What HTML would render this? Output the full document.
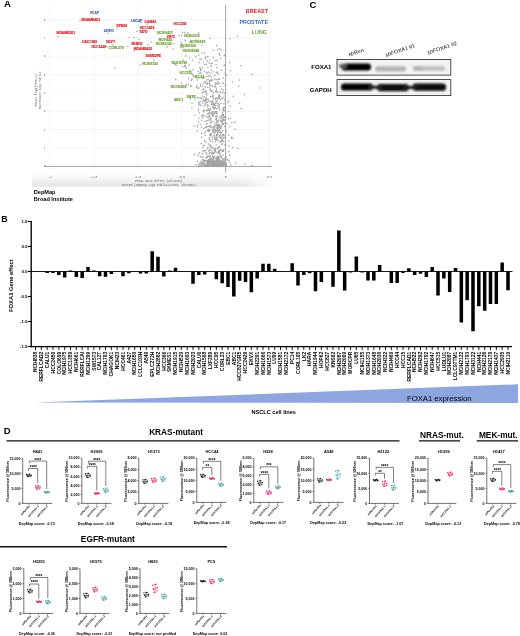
<!DOCTYPE html><html><head><meta charset="utf-8"><title>Figure</title><style>html,body{margin:0;padding:0;background:#fff}svg{display:block}text{font-family:"Liberation Sans",sans-serif}.b{font-weight:bold}</style></head><body>
<svg width="520" height="636" viewBox="0 0 520 636">
<defs><linearGradient id="gb" x1="0" y1="0" x2="0" y2="1"><stop offset="0" stop-color="#fff"/><stop offset="0.5" stop-color="#f3f3f3"/><stop offset="1" stop-color="#e3e3e3"/></linearGradient><linearGradient id="gbx" x1="0" y1="0" x2="1" y2="0"><stop offset="0" stop-color="#fff" stop-opacity="0"/><stop offset="0.86" stop-color="#fff" stop-opacity="0"/><stop offset="1" stop-color="#fff" stop-opacity="1"/></linearGradient><filter id="bl" x="-20%" y="-50%" width="140%" height="200%"><feGaussianBlur stdDeviation="1.2 0.9"/></filter><filter id="bl2" x="-20%" y="-50%" width="140%" height="200%"><feGaussianBlur stdDeviation="1.6 1.0"/></filter></defs>
<rect width="520" height="636" fill="#fff"/>
<text x="4.0" y="7.4" font-size="9.6" class="b">A</text>
<text x="1.2" y="221.8" font-size="8.8" class="b">B</text>
<text x="309.6" y="8.3" font-size="9.6" class="b">C</text>
<text x="3.7" y="434.3" font-size="9.5" class="b">D</text>
<g id="panelA">
<rect x="32" y="173" width="240" height="13.7" fill="url(#gb)"/><rect x="32" y="172.5" width="241" height="15" fill="url(#gbx)"/>
<line x1="50.0" y1="5" x2="50.0" y2="172" stroke="#ececec" stroke-width="0.5"/>
<line x1="93.9" y1="5" x2="93.9" y2="172" stroke="#ececec" stroke-width="0.5"/>
<line x1="137.8" y1="5" x2="137.8" y2="172" stroke="#ececec" stroke-width="0.5"/>
<line x1="181.7" y1="5" x2="181.7" y2="172" stroke="#ececec" stroke-width="0.5"/>
<line x1="269.5" y1="5" x2="269.5" y2="172" stroke="#ececec" stroke-width="0.5"/>
<line x1="46.5" y1="148.0" x2="271" y2="148.0" stroke="#ececec" stroke-width="0.5"/>
<line x1="46.5" y1="129.7" x2="271" y2="129.7" stroke="#ececec" stroke-width="0.5"/>
<line x1="46.5" y1="111.3" x2="271" y2="111.3" stroke="#ececec" stroke-width="0.5"/>
<line x1="46.5" y1="93.0" x2="271" y2="93.0" stroke="#ececec" stroke-width="0.5"/>
<line x1="46.5" y1="74.6" x2="271" y2="74.6" stroke="#ececec" stroke-width="0.5"/>
<line x1="46.5" y1="56.2" x2="271" y2="56.2" stroke="#ececec" stroke-width="0.5"/>
<line x1="46.5" y1="37.9" x2="271" y2="37.9" stroke="#ececec" stroke-width="0.5"/>
<line x1="46.5" y1="19.5" x2="271" y2="19.5" stroke="#ececec" stroke-width="0.5"/>
<line x1="44.8" y1="166.4" x2="271.5" y2="166.4" stroke="#9a9a9a" stroke-width="0.9"/>
<line x1="225.6" y1="5" x2="225.6" y2="172.5" stroke="#9a9a9a" stroke-width="0.9"/>
<text x="50.0" y="178.4" font-size="2.8" text-anchor="middle" fill="#666" style="font-family:'Liberation Mono',monospace">-2</text>
<text x="93.9" y="178.4" font-size="2.8" text-anchor="middle" fill="#666" style="font-family:'Liberation Mono',monospace">-1.5</text>
<text x="137.8" y="178.4" font-size="2.8" text-anchor="middle" fill="#666" style="font-family:'Liberation Mono',monospace">-1.0</text>
<text x="181.7" y="178.4" font-size="2.8" text-anchor="middle" fill="#666" style="font-family:'Liberation Mono',monospace">-0.5</text>
<text x="225.6" y="178.4" font-size="2.8" text-anchor="middle" fill="#666" style="font-family:'Liberation Mono',monospace">0</text>
<text x="269.5" y="178.4" font-size="2.8" text-anchor="middle" fill="#666" style="font-family:'Liberation Mono',monospace">0.5</text>
<text x="45.4" y="167.3" font-size="2.8" text-anchor="end" fill="#666" style="font-family:'Liberation Mono',monospace">0</text>
<text x="45.4" y="149.0" font-size="2.8" text-anchor="end" fill="#666" style="font-family:'Liberation Mono',monospace">1</text>
<text x="45.4" y="130.6" font-size="2.8" text-anchor="end" fill="#666" style="font-family:'Liberation Mono',monospace">2</text>
<text x="45.4" y="112.3" font-size="2.8" text-anchor="end" fill="#666" style="font-family:'Liberation Mono',monospace">3</text>
<text x="45.4" y="93.9" font-size="2.8" text-anchor="end" fill="#666" style="font-family:'Liberation Mono',monospace">4</text>
<text x="45.4" y="75.6" font-size="2.8" text-anchor="end" fill="#666" style="font-family:'Liberation Mono',monospace">5</text>
<text x="45.4" y="57.2" font-size="2.8" text-anchor="end" fill="#666" style="font-family:'Liberation Mono',monospace">6</text>
<text x="45.4" y="38.8" font-size="2.8" text-anchor="end" fill="#666" style="font-family:'Liberation Mono',monospace">7</text>
<text x="45.4" y="20.5" font-size="2.8" text-anchor="end" fill="#666" style="font-family:'Liberation Mono',monospace">8</text>
<text x="158.8" y="182.2" font-size="2.95" text-anchor="middle" fill="#666" style="font-family:'Liberation Mono',monospace">FOXA1 Gene Effect (Chronos)</text>
<text x="158.8" y="186.0" font-size="2.95" text-anchor="middle" fill="#666" style="font-family:'Liberation Mono',monospace">CRISPR (DepMap 22Q1 Public+Score, Chronos)</text>
<text transform="translate(37.3,90.4) rotate(-90)" font-size="3.2" fill="#555" text-anchor="middle" style="font-family:'Liberation Mono',monospace">FOXA1 log2(TPM+1)</text>
<text transform="translate(41.3,90.4) rotate(-90)" font-size="2.85" fill="#555" text-anchor="middle" style="font-family:'Liberation Mono',monospace">Expression 22Q1 Public</text>
<g fill="#a2a2a2">
<circle cx="212.5" cy="164.5" r="0.78"/>
<circle cx="212.7" cy="165.2" r="0.78"/>
<circle cx="208.1" cy="165.6" r="0.78"/>
<circle cx="221.5" cy="164.8" r="0.78"/>
<circle cx="221.0" cy="165.5" r="0.78"/>
<circle cx="216.8" cy="165.7" r="0.78"/>
<circle cx="203.2" cy="163.3" r="0.78"/>
<circle cx="217.5" cy="164.6" r="0.78"/>
<circle cx="203.0" cy="160.0" r="0.78"/>
<circle cx="208.3" cy="164.7" r="0.78"/>
<circle cx="216.2" cy="166.2" r="0.78"/>
<circle cx="217.6" cy="164.0" r="0.78"/>
<circle cx="216.2" cy="165.0" r="0.78"/>
<circle cx="209.8" cy="160.1" r="0.78"/>
<circle cx="217.9" cy="162.0" r="0.78"/>
<circle cx="210.1" cy="163.7" r="0.78"/>
<circle cx="211.9" cy="166.0" r="0.78"/>
<circle cx="218.3" cy="165.5" r="0.78"/>
<circle cx="211.2" cy="162.9" r="0.78"/>
<circle cx="210.8" cy="161.9" r="0.78"/>
<circle cx="208.9" cy="165.5" r="0.78"/>
<circle cx="217.0" cy="160.9" r="0.78"/>
<circle cx="214.5" cy="161.6" r="0.78"/>
<circle cx="200.9" cy="165.2" r="0.78"/>
<circle cx="213.5" cy="163.4" r="0.78"/>
<circle cx="217.5" cy="166.2" r="0.78"/>
<circle cx="204.5" cy="163.4" r="0.78"/>
<circle cx="218.6" cy="162.9" r="0.78"/>
<circle cx="223.7" cy="165.1" r="0.78"/>
<circle cx="215.0" cy="161.6" r="0.78"/>
<circle cx="218.2" cy="164.2" r="0.78"/>
<circle cx="211.2" cy="161.8" r="0.78"/>
<circle cx="207.8" cy="164.4" r="0.78"/>
<circle cx="222.7" cy="158.9" r="0.78"/>
<circle cx="204.6" cy="165.5" r="0.78"/>
<circle cx="223.7" cy="164.3" r="0.78"/>
<circle cx="201.7" cy="157.2" r="0.78"/>
<circle cx="216.5" cy="163.7" r="0.78"/>
<circle cx="206.8" cy="162.8" r="0.78"/>
<circle cx="221.4" cy="165.8" r="0.78"/>
<circle cx="215.8" cy="164.8" r="0.78"/>
<circle cx="224.7" cy="164.1" r="0.78"/>
<circle cx="217.6" cy="164.4" r="0.78"/>
<circle cx="203.9" cy="161.7" r="0.78"/>
<circle cx="220.5" cy="164.5" r="0.78"/>
<circle cx="201.2" cy="164.1" r="0.78"/>
<circle cx="219.7" cy="159.7" r="0.78"/>
<circle cx="213.0" cy="162.7" r="0.78"/>
<circle cx="205.6" cy="160.5" r="0.78"/>
<circle cx="217.8" cy="165.8" r="0.78"/>
<circle cx="216.3" cy="164.0" r="0.78"/>
<circle cx="215.0" cy="162.2" r="0.78"/>
<circle cx="209.8" cy="164.9" r="0.78"/>
<circle cx="221.0" cy="166.3" r="0.78"/>
<circle cx="208.4" cy="162.9" r="0.78"/>
<circle cx="223.8" cy="164.8" r="0.78"/>
<circle cx="205.1" cy="165.9" r="0.78"/>
<circle cx="213.2" cy="165.3" r="0.78"/>
<circle cx="223.4" cy="162.6" r="0.78"/>
<circle cx="222.5" cy="161.7" r="0.78"/>
<circle cx="209.0" cy="164.1" r="0.78"/>
<circle cx="221.6" cy="163.2" r="0.78"/>
<circle cx="216.5" cy="165.9" r="0.78"/>
<circle cx="215.2" cy="164.3" r="0.78"/>
<circle cx="213.0" cy="165.4" r="0.78"/>
<circle cx="218.0" cy="166.4" r="0.78"/>
<circle cx="219.2" cy="164.3" r="0.78"/>
<circle cx="211.4" cy="165.0" r="0.78"/>
<circle cx="214.1" cy="163.0" r="0.78"/>
<circle cx="212.0" cy="165.0" r="0.78"/>
<circle cx="226.3" cy="157.0" r="0.78"/>
<circle cx="206.8" cy="165.5" r="0.78"/>
<circle cx="216.8" cy="165.5" r="0.78"/>
<circle cx="211.3" cy="164.0" r="0.78"/>
<circle cx="216.0" cy="164.5" r="0.78"/>
<circle cx="210.5" cy="166.0" r="0.78"/>
<circle cx="212.7" cy="166.2" r="0.78"/>
<circle cx="196.2" cy="164.6" r="0.78"/>
<circle cx="220.8" cy="162.1" r="0.78"/>
<circle cx="213.7" cy="162.9" r="0.78"/>
<circle cx="219.8" cy="160.9" r="0.78"/>
<circle cx="203.0" cy="165.1" r="0.78"/>
<circle cx="211.9" cy="164.1" r="0.78"/>
<circle cx="221.4" cy="156.5" r="0.78"/>
<circle cx="221.4" cy="161.1" r="0.78"/>
<circle cx="218.7" cy="160.9" r="0.78"/>
<circle cx="215.3" cy="162.0" r="0.78"/>
<circle cx="213.2" cy="165.7" r="0.78"/>
<circle cx="219.4" cy="165.9" r="0.78"/>
<circle cx="213.6" cy="160.8" r="0.78"/>
<circle cx="221.1" cy="165.3" r="0.78"/>
<circle cx="220.2" cy="165.4" r="0.78"/>
<circle cx="215.1" cy="163.8" r="0.78"/>
<circle cx="215.6" cy="164.1" r="0.78"/>
<circle cx="204.1" cy="160.9" r="0.78"/>
<circle cx="218.2" cy="162.9" r="0.78"/>
<circle cx="207.4" cy="161.0" r="0.78"/>
<circle cx="222.5" cy="163.7" r="0.78"/>
<circle cx="223.9" cy="163.0" r="0.78"/>
<circle cx="214.2" cy="162.2" r="0.78"/>
<circle cx="219.2" cy="160.6" r="0.78"/>
<circle cx="208.3" cy="160.7" r="0.78"/>
<circle cx="220.7" cy="165.7" r="0.78"/>
<circle cx="201.2" cy="161.2" r="0.78"/>
<circle cx="213.6" cy="164.2" r="0.78"/>
<circle cx="216.8" cy="164.9" r="0.78"/>
<circle cx="224.1" cy="162.7" r="0.78"/>
<circle cx="221.7" cy="160.9" r="0.78"/>
<circle cx="223.7" cy="165.7" r="0.78"/>
<circle cx="209.3" cy="162.7" r="0.78"/>
<circle cx="214.9" cy="165.9" r="0.78"/>
<circle cx="223.6" cy="165.4" r="0.78"/>
<circle cx="199.1" cy="165.0" r="0.78"/>
<circle cx="202.0" cy="163.4" r="0.78"/>
<circle cx="216.3" cy="164.2" r="0.78"/>
<circle cx="214.1" cy="163.3" r="0.78"/>
<circle cx="214.7" cy="161.5" r="0.78"/>
<circle cx="213.8" cy="162.6" r="0.78"/>
<circle cx="224.0" cy="160.5" r="0.78"/>
<circle cx="209.8" cy="163.2" r="0.78"/>
<circle cx="201.8" cy="162.4" r="0.78"/>
<circle cx="201.3" cy="162.5" r="0.78"/>
<circle cx="206.1" cy="166.4" r="0.78"/>
<circle cx="212.9" cy="166.3" r="0.78"/>
<circle cx="210.3" cy="165.5" r="0.78"/>
<circle cx="226.0" cy="166.2" r="0.78"/>
<circle cx="217.7" cy="162.7" r="0.78"/>
<circle cx="212.9" cy="161.8" r="0.78"/>
<circle cx="210.5" cy="162.5" r="0.78"/>
<circle cx="203.3" cy="164.2" r="0.78"/>
<circle cx="220.8" cy="163.5" r="0.78"/>
<circle cx="214.2" cy="163.4" r="0.78"/>
<circle cx="215.3" cy="162.1" r="0.78"/>
<circle cx="203.9" cy="164.1" r="0.78"/>
<circle cx="220.3" cy="164.3" r="0.78"/>
<circle cx="208.2" cy="163.6" r="0.78"/>
<circle cx="204.1" cy="166.0" r="0.78"/>
<circle cx="206.4" cy="165.1" r="0.78"/>
<circle cx="198.6" cy="165.2" r="0.78"/>
<circle cx="210.0" cy="159.3" r="0.78"/>
<circle cx="219.0" cy="165.4" r="0.78"/>
<circle cx="199.5" cy="163.2" r="0.78"/>
<circle cx="216.1" cy="164.7" r="0.78"/>
<circle cx="219.3" cy="163.7" r="0.78"/>
<circle cx="218.6" cy="165.2" r="0.78"/>
<circle cx="223.0" cy="164.0" r="0.78"/>
<circle cx="217.2" cy="158.7" r="0.78"/>
<circle cx="220.1" cy="161.6" r="0.78"/>
<circle cx="212.2" cy="164.7" r="0.78"/>
<circle cx="227.0" cy="159.9" r="0.78"/>
<circle cx="217.3" cy="157.5" r="0.78"/>
<circle cx="208.1" cy="163.9" r="0.78"/>
<circle cx="226.6" cy="166.0" r="0.78"/>
<circle cx="217.9" cy="163.1" r="0.78"/>
<circle cx="208.2" cy="166.1" r="0.78"/>
<circle cx="216.1" cy="163.4" r="0.78"/>
<circle cx="214.0" cy="165.7" r="0.78"/>
<circle cx="207.5" cy="165.1" r="0.78"/>
<circle cx="220.1" cy="166.0" r="0.78"/>
<circle cx="208.6" cy="163.3" r="0.78"/>
<circle cx="218.4" cy="156.9" r="0.78"/>
<circle cx="218.3" cy="164.6" r="0.78"/>
<circle cx="225.3" cy="164.8" r="0.78"/>
<circle cx="213.7" cy="164.5" r="0.78"/>
<circle cx="201.4" cy="162.6" r="0.78"/>
<circle cx="216.3" cy="163.8" r="0.78"/>
<circle cx="222.9" cy="159.8" r="0.78"/>
<circle cx="205.0" cy="164.0" r="0.78"/>
<circle cx="216.1" cy="165.7" r="0.78"/>
<circle cx="211.6" cy="162.8" r="0.78"/>
<circle cx="206.3" cy="161.5" r="0.78"/>
<circle cx="225.4" cy="162.8" r="0.78"/>
<circle cx="226.2" cy="163.4" r="0.78"/>
<circle cx="208.4" cy="165.4" r="0.78"/>
<circle cx="200.0" cy="163.7" r="0.78"/>
<circle cx="213.8" cy="164.5" r="0.78"/>
<circle cx="209.4" cy="165.9" r="0.78"/>
<circle cx="217.2" cy="165.0" r="0.78"/>
<circle cx="218.4" cy="165.6" r="0.78"/>
<circle cx="212.1" cy="163.5" r="0.78"/>
<circle cx="214.5" cy="163.4" r="0.78"/>
<circle cx="210.1" cy="166.4" r="0.78"/>
<circle cx="213.5" cy="165.8" r="0.78"/>
<circle cx="214.2" cy="165.8" r="0.78"/>
<circle cx="213.3" cy="161.8" r="0.78"/>
<circle cx="217.0" cy="162.5" r="0.78"/>
<circle cx="217.0" cy="165.7" r="0.78"/>
<circle cx="217.1" cy="162.9" r="0.78"/>
<circle cx="201.7" cy="166.2" r="0.78"/>
<circle cx="208.1" cy="163.7" r="0.78"/>
<circle cx="207.0" cy="156.7" r="0.78"/>
<circle cx="207.3" cy="160.6" r="0.78"/>
<circle cx="211.7" cy="161.4" r="0.78"/>
<circle cx="209.2" cy="164.5" r="0.78"/>
<circle cx="217.5" cy="165.8" r="0.78"/>
<circle cx="224.0" cy="163.8" r="0.78"/>
<circle cx="214.0" cy="164.2" r="0.78"/>
<circle cx="225.1" cy="162.8" r="0.78"/>
<circle cx="220.9" cy="162.4" r="0.78"/>
<circle cx="213.2" cy="163.7" r="0.78"/>
<circle cx="212.2" cy="162.5" r="0.78"/>
<circle cx="218.1" cy="163.1" r="0.78"/>
<circle cx="212.8" cy="157.0" r="0.78"/>
<circle cx="222.4" cy="165.6" r="0.78"/>
<circle cx="214.8" cy="156.9" r="0.78"/>
<circle cx="211.9" cy="163.2" r="0.78"/>
<circle cx="220.6" cy="166.4" r="0.78"/>
<circle cx="206.5" cy="165.7" r="0.78"/>
<circle cx="216.6" cy="162.3" r="0.78"/>
<circle cx="219.3" cy="166.3" r="0.78"/>
<circle cx="219.8" cy="164.4" r="0.78"/>
<circle cx="215.5" cy="166.2" r="0.78"/>
<circle cx="212.6" cy="163.9" r="0.78"/>
<circle cx="207.2" cy="164.1" r="0.78"/>
<circle cx="214.2" cy="161.0" r="0.78"/>
<circle cx="211.3" cy="159.0" r="0.78"/>
<circle cx="209.7" cy="164.3" r="0.78"/>
<circle cx="217.9" cy="166.2" r="0.78"/>
<circle cx="212.7" cy="161.2" r="0.78"/>
<circle cx="226.2" cy="164.5" r="0.78"/>
<circle cx="221.4" cy="163.2" r="0.78"/>
<circle cx="213.0" cy="159.7" r="0.78"/>
<circle cx="219.3" cy="163.0" r="0.78"/>
<circle cx="201.7" cy="166.2" r="0.78"/>
<circle cx="218.3" cy="159.9" r="0.78"/>
<circle cx="202.2" cy="162.5" r="0.78"/>
<circle cx="210.0" cy="161.2" r="0.78"/>
<circle cx="214.4" cy="165.5" r="0.78"/>
<circle cx="218.4" cy="163.8" r="0.78"/>
<circle cx="224.1" cy="162.1" r="0.78"/>
<circle cx="205.5" cy="164.5" r="0.78"/>
<circle cx="207.2" cy="162.4" r="0.78"/>
<circle cx="213.7" cy="166.4" r="0.78"/>
<circle cx="217.4" cy="160.6" r="0.78"/>
<circle cx="206.0" cy="166.3" r="0.78"/>
<circle cx="212.9" cy="165.3" r="0.78"/>
<circle cx="213.8" cy="163.6" r="0.78"/>
<circle cx="218.8" cy="165.1" r="0.78"/>
<circle cx="213.6" cy="163.9" r="0.78"/>
<circle cx="213.0" cy="156.4" r="0.78"/>
<circle cx="207.7" cy="166.3" r="0.78"/>
<circle cx="204.3" cy="165.7" r="0.78"/>
<circle cx="215.2" cy="161.3" r="0.78"/>
<circle cx="212.5" cy="165.2" r="0.78"/>
<circle cx="217.2" cy="164.2" r="0.78"/>
<circle cx="213.9" cy="163.3" r="0.78"/>
<circle cx="213.2" cy="166.2" r="0.78"/>
<circle cx="219.0" cy="165.3" r="0.78"/>
<circle cx="209.4" cy="161.4" r="0.78"/>
<circle cx="211.7" cy="163.7" r="0.78"/>
<circle cx="206.9" cy="166.0" r="0.78"/>
<circle cx="211.0" cy="166.0" r="0.78"/>
<circle cx="217.6" cy="164.9" r="0.78"/>
<circle cx="221.4" cy="166.0" r="0.78"/>
<circle cx="221.5" cy="157.7" r="0.78"/>
<circle cx="209.2" cy="165.5" r="0.78"/>
<circle cx="218.2" cy="157.8" r="0.78"/>
<circle cx="216.3" cy="161.7" r="0.78"/>
<circle cx="219.2" cy="162.9" r="0.78"/>
<circle cx="217.5" cy="165.8" r="0.78"/>
<circle cx="217.5" cy="162.4" r="0.78"/>
<circle cx="222.0" cy="162.7" r="0.78"/>
<circle cx="215.8" cy="158.6" r="0.78"/>
<circle cx="212.7" cy="166.3" r="0.78"/>
<circle cx="221.8" cy="166.3" r="0.78"/>
<circle cx="208.9" cy="165.5" r="0.78"/>
<circle cx="218.0" cy="163.8" r="0.78"/>
<circle cx="209.1" cy="160.0" r="0.78"/>
<circle cx="225.2" cy="166.3" r="0.78"/>
<circle cx="216.0" cy="164.8" r="0.78"/>
<circle cx="223.5" cy="163.8" r="0.78"/>
<circle cx="218.6" cy="164.6" r="0.78"/>
<circle cx="209.6" cy="163.8" r="0.78"/>
<circle cx="223.0" cy="166.4" r="0.78"/>
<circle cx="209.7" cy="163.4" r="0.78"/>
<circle cx="213.9" cy="165.3" r="0.78"/>
<circle cx="224.2" cy="162.2" r="0.78"/>
<circle cx="210.8" cy="158.0" r="0.78"/>
<circle cx="214.2" cy="163.5" r="0.78"/>
<circle cx="209.9" cy="166.2" r="0.78"/>
<circle cx="202.7" cy="159.8" r="0.78"/>
<circle cx="223.2" cy="161.9" r="0.78"/>
<circle cx="204.3" cy="160.4" r="0.78"/>
<circle cx="221.9" cy="164.7" r="0.78"/>
<circle cx="213.8" cy="165.3" r="0.78"/>
<circle cx="213.4" cy="162.4" r="0.78"/>
<circle cx="214.3" cy="161.1" r="0.78"/>
<circle cx="213.7" cy="165.3" r="0.78"/>
<circle cx="217.3" cy="165.5" r="0.78"/>
<circle cx="208.2" cy="165.8" r="0.78"/>
<circle cx="211.0" cy="160.7" r="0.78"/>
<circle cx="219.2" cy="166.0" r="0.78"/>
<circle cx="211.1" cy="163.8" r="0.78"/>
<circle cx="208.0" cy="165.1" r="0.78"/>
<circle cx="216.5" cy="160.1" r="0.78"/>
<circle cx="218.3" cy="151.1" r="0.78"/>
<circle cx="208.6" cy="151.1" r="0.78"/>
<circle cx="214.3" cy="149.9" r="0.78"/>
<circle cx="210.1" cy="160.3" r="0.78"/>
<circle cx="215.5" cy="161.6" r="0.78"/>
<circle cx="212.3" cy="159.7" r="0.78"/>
<circle cx="217.1" cy="159.4" r="0.78"/>
<circle cx="199.2" cy="153.1" r="0.78"/>
<circle cx="207.2" cy="157.4" r="0.78"/>
<circle cx="205.9" cy="157.9" r="0.78"/>
<circle cx="219.1" cy="158.4" r="0.78"/>
<circle cx="220.1" cy="150.3" r="0.78"/>
<circle cx="216.6" cy="161.1" r="0.78"/>
<circle cx="203.1" cy="151.6" r="0.78"/>
<circle cx="213.9" cy="160.0" r="0.78"/>
<circle cx="213.4" cy="157.6" r="0.78"/>
<circle cx="220.1" cy="157.0" r="0.78"/>
<circle cx="228.9" cy="151.5" r="0.78"/>
<circle cx="209.8" cy="162.3" r="0.78"/>
<circle cx="210.0" cy="156.6" r="0.78"/>
<circle cx="197.9" cy="155.2" r="0.78"/>
<circle cx="222.1" cy="150.8" r="0.78"/>
<circle cx="214.2" cy="152.1" r="0.78"/>
<circle cx="227.2" cy="159.5" r="0.78"/>
<circle cx="197.5" cy="161.3" r="0.78"/>
<circle cx="219.6" cy="154.0" r="0.78"/>
<circle cx="222.1" cy="150.6" r="0.78"/>
<circle cx="212.2" cy="152.9" r="0.78"/>
<circle cx="203.0" cy="156.9" r="0.78"/>
<circle cx="212.1" cy="152.7" r="0.78"/>
<circle cx="213.5" cy="159.7" r="0.78"/>
<circle cx="224.2" cy="158.8" r="0.78"/>
<circle cx="208.7" cy="161.1" r="0.78"/>
<circle cx="214.1" cy="153.7" r="0.78"/>
<circle cx="225.4" cy="161.3" r="0.78"/>
<circle cx="222.9" cy="155.2" r="0.78"/>
<circle cx="218.3" cy="157.7" r="0.78"/>
<circle cx="216.0" cy="162.6" r="0.78"/>
<circle cx="224.8" cy="158.9" r="0.78"/>
<circle cx="194.8" cy="154.4" r="0.78"/>
<circle cx="219.1" cy="151.4" r="0.78"/>
<circle cx="208.5" cy="159.6" r="0.78"/>
<circle cx="215.1" cy="150.4" r="0.78"/>
<circle cx="212.3" cy="162.4" r="0.78"/>
<circle cx="207.7" cy="156.3" r="0.78"/>
<circle cx="210.4" cy="159.4" r="0.78"/>
<circle cx="206.8" cy="154.2" r="0.78"/>
<circle cx="219.2" cy="162.3" r="0.78"/>
<circle cx="211.6" cy="158.4" r="0.78"/>
<circle cx="203.7" cy="160.2" r="0.78"/>
<circle cx="219.9" cy="152.5" r="0.78"/>
<circle cx="213.5" cy="160.1" r="0.78"/>
<circle cx="204.8" cy="150.3" r="0.78"/>
<circle cx="208.7" cy="159.8" r="0.78"/>
<circle cx="208.8" cy="156.4" r="0.78"/>
<circle cx="204.0" cy="150.5" r="0.78"/>
<circle cx="220.0" cy="160.8" r="0.78"/>
<circle cx="209.9" cy="150.2" r="0.78"/>
<circle cx="217.6" cy="160.9" r="0.78"/>
<circle cx="216.8" cy="157.7" r="0.78"/>
<circle cx="215.1" cy="151.2" r="0.78"/>
<circle cx="223.7" cy="149.9" r="0.78"/>
<circle cx="205.6" cy="150.8" r="0.78"/>
<circle cx="211.8" cy="150.7" r="0.78"/>
<circle cx="218.6" cy="153.1" r="0.78"/>
<circle cx="225.6" cy="157.9" r="0.78"/>
<circle cx="216.5" cy="157.9" r="0.78"/>
<circle cx="217.1" cy="122.1" r="0.78"/>
<circle cx="217.4" cy="125.5" r="0.78"/>
<circle cx="221.1" cy="120.7" r="0.78"/>
<circle cx="204.5" cy="53.1" r="0.78"/>
<circle cx="207.6" cy="130.4" r="0.78"/>
<circle cx="210.3" cy="146.0" r="0.78"/>
<circle cx="211.3" cy="63.5" r="0.78"/>
<circle cx="205.7" cy="131.5" r="0.78"/>
<circle cx="211.4" cy="80.0" r="0.78"/>
<circle cx="214.9" cy="148.4" r="0.78"/>
<circle cx="221.5" cy="144.1" r="0.78"/>
<circle cx="207.7" cy="87.5" r="0.78"/>
<circle cx="202.5" cy="67.3" r="0.78"/>
<circle cx="219.8" cy="54.9" r="0.78"/>
<circle cx="212.7" cy="100.3" r="0.78"/>
<circle cx="217.3" cy="156.8" r="0.78"/>
<circle cx="190.4" cy="98.7" r="0.78"/>
<circle cx="220.7" cy="58.5" r="0.78"/>
<circle cx="216.6" cy="111.8" r="0.78"/>
<circle cx="224.8" cy="55.2" r="0.78"/>
<circle cx="214.5" cy="127.3" r="0.78"/>
<circle cx="195.0" cy="115.2" r="0.78"/>
<circle cx="217.6" cy="132.3" r="0.78"/>
<circle cx="209.4" cy="81.1" r="0.78"/>
<circle cx="188.5" cy="84.7" r="0.78"/>
<circle cx="209.8" cy="101.1" r="0.78"/>
<circle cx="223.6" cy="120.0" r="0.78"/>
<circle cx="218.9" cy="83.6" r="0.78"/>
<circle cx="215.8" cy="86.9" r="0.78"/>
<circle cx="218.8" cy="127.6" r="0.78"/>
<circle cx="215.7" cy="105.7" r="0.78"/>
<circle cx="234.6" cy="122.4" r="0.78"/>
<circle cx="214.7" cy="126.4" r="0.78"/>
<circle cx="223.7" cy="141.5" r="0.78"/>
<circle cx="220.1" cy="91.5" r="0.78"/>
<circle cx="216.8" cy="114.0" r="0.78"/>
<circle cx="224.6" cy="100.0" r="0.78"/>
<circle cx="212.9" cy="95.0" r="0.78"/>
<circle cx="192.6" cy="95.9" r="0.78"/>
<circle cx="220.2" cy="137.6" r="0.78"/>
<circle cx="207.5" cy="104.6" r="0.78"/>
<circle cx="216.2" cy="119.2" r="0.78"/>
<circle cx="211.3" cy="127.6" r="0.78"/>
<circle cx="190.4" cy="41.9" r="0.78"/>
<circle cx="210.6" cy="80.4" r="0.78"/>
<circle cx="218.4" cy="97.0" r="0.78"/>
<circle cx="215.3" cy="111.9" r="0.78"/>
<circle cx="201.0" cy="124.6" r="0.78"/>
<circle cx="224.2" cy="137.8" r="0.78"/>
<circle cx="239.6" cy="103.2" r="0.78"/>
<circle cx="223.1" cy="119.3" r="0.78"/>
<circle cx="210.1" cy="126.8" r="0.78"/>
<circle cx="217.2" cy="84.1" r="0.78"/>
<circle cx="212.6" cy="102.1" r="0.78"/>
<circle cx="215.9" cy="100.0" r="0.78"/>
<circle cx="224.0" cy="135.7" r="0.78"/>
<circle cx="216.5" cy="130.7" r="0.78"/>
<circle cx="212.4" cy="153.7" r="0.78"/>
<circle cx="219.7" cy="130.7" r="0.78"/>
<circle cx="208.4" cy="144.0" r="0.78"/>
<circle cx="209.5" cy="139.6" r="0.78"/>
<circle cx="221.7" cy="98.3" r="0.78"/>
<circle cx="222.6" cy="140.7" r="0.78"/>
<circle cx="223.9" cy="123.7" r="0.78"/>
<circle cx="212.0" cy="104.6" r="0.78"/>
<circle cx="201.6" cy="120.3" r="0.78"/>
<circle cx="216.1" cy="131.2" r="0.78"/>
<circle cx="212.8" cy="155.8" r="0.78"/>
<circle cx="182.8" cy="66.8" r="0.78"/>
<circle cx="224.0" cy="116.9" r="0.78"/>
<circle cx="200.7" cy="69.9" r="0.78"/>
<circle cx="217.7" cy="152.7" r="0.78"/>
<circle cx="200.9" cy="105.8" r="0.78"/>
<circle cx="204.6" cy="140.9" r="0.78"/>
<circle cx="205.4" cy="99.8" r="0.78"/>
<circle cx="223.4" cy="135.3" r="0.78"/>
<circle cx="197.8" cy="125.2" r="0.78"/>
<circle cx="214.6" cy="138.8" r="0.78"/>
<circle cx="223.8" cy="110.7" r="0.78"/>
<circle cx="197.2" cy="131.1" r="0.78"/>
<circle cx="210.3" cy="145.4" r="0.78"/>
<circle cx="180.5" cy="62.2" r="0.78"/>
<circle cx="218.0" cy="134.1" r="0.78"/>
<circle cx="210.1" cy="117.0" r="0.78"/>
<circle cx="214.7" cy="75.4" r="0.78"/>
<circle cx="212.3" cy="129.6" r="0.78"/>
<circle cx="207.6" cy="117.4" r="0.78"/>
<circle cx="216.0" cy="137.4" r="0.78"/>
<circle cx="214.1" cy="127.6" r="0.78"/>
<circle cx="202.6" cy="147.3" r="0.78"/>
<circle cx="214.7" cy="104.9" r="0.78"/>
<circle cx="206.6" cy="76.5" r="0.78"/>
<circle cx="209.2" cy="137.9" r="0.78"/>
<circle cx="206.1" cy="99.4" r="0.78"/>
<circle cx="206.9" cy="123.7" r="0.78"/>
<circle cx="221.9" cy="115.5" r="0.78"/>
<circle cx="202.6" cy="96.4" r="0.78"/>
<circle cx="219.1" cy="150.7" r="0.78"/>
<circle cx="206.3" cy="100.1" r="0.78"/>
<circle cx="212.4" cy="85.7" r="0.78"/>
<circle cx="203.9" cy="83.8" r="0.78"/>
<circle cx="217.1" cy="112.0" r="0.78"/>
<circle cx="222.2" cy="139.0" r="0.78"/>
<circle cx="222.4" cy="140.6" r="0.78"/>
<circle cx="213.3" cy="114.3" r="0.78"/>
<circle cx="213.5" cy="98.5" r="0.78"/>
<circle cx="215.5" cy="141.7" r="0.78"/>
<circle cx="198.5" cy="109.0" r="0.78"/>
<circle cx="210.1" cy="145.3" r="0.78"/>
<circle cx="207.2" cy="56.7" r="0.78"/>
<circle cx="175.7" cy="79.6" r="0.78"/>
<circle cx="226.0" cy="131.4" r="0.78"/>
<circle cx="206.5" cy="64.2" r="0.78"/>
<circle cx="221.1" cy="133.7" r="0.78"/>
<circle cx="201.1" cy="143.8" r="0.78"/>
<circle cx="217.0" cy="120.8" r="0.78"/>
<circle cx="199.9" cy="67.7" r="0.78"/>
<circle cx="218.7" cy="125.8" r="0.78"/>
<circle cx="210.4" cy="109.8" r="0.78"/>
<circle cx="212.0" cy="63.4" r="0.78"/>
<circle cx="222.5" cy="109.5" r="0.78"/>
<circle cx="222.1" cy="122.9" r="0.78"/>
<circle cx="217.9" cy="134.0" r="0.78"/>
<circle cx="192.4" cy="60.0" r="0.78"/>
<circle cx="201.8" cy="133.4" r="0.78"/>
<circle cx="223.3" cy="83.3" r="0.78"/>
<circle cx="222.2" cy="98.5" r="0.78"/>
<circle cx="224.6" cy="120.1" r="0.78"/>
<circle cx="205.2" cy="103.5" r="0.78"/>
<circle cx="210.8" cy="85.6" r="0.78"/>
<circle cx="222.7" cy="114.3" r="0.78"/>
<circle cx="201.6" cy="127.2" r="0.78"/>
<circle cx="192.0" cy="103.0" r="0.78"/>
<circle cx="213.1" cy="96.0" r="0.78"/>
<circle cx="217.2" cy="148.6" r="0.78"/>
<circle cx="210.7" cy="135.0" r="0.78"/>
<circle cx="208.3" cy="109.0" r="0.78"/>
<circle cx="216.9" cy="67.8" r="0.78"/>
<circle cx="219.0" cy="97.0" r="0.78"/>
<circle cx="222.9" cy="150.9" r="0.78"/>
<circle cx="216.9" cy="139.1" r="0.78"/>
<circle cx="218.7" cy="120.3" r="0.78"/>
<circle cx="208.3" cy="99.6" r="0.78"/>
<circle cx="209.6" cy="60.0" r="0.78"/>
<circle cx="219.0" cy="127.8" r="0.78"/>
<circle cx="217.4" cy="98.4" r="0.78"/>
<circle cx="212.9" cy="71.7" r="0.78"/>
<circle cx="208.6" cy="126.5" r="0.78"/>
<circle cx="211.9" cy="153.7" r="0.78"/>
<circle cx="207.9" cy="120.8" r="0.78"/>
<circle cx="190.3" cy="97.7" r="0.78"/>
<circle cx="221.8" cy="89.0" r="0.78"/>
<circle cx="218.9" cy="127.5" r="0.78"/>
<circle cx="213.3" cy="107.5" r="0.78"/>
<circle cx="216.5" cy="116.9" r="0.78"/>
<circle cx="216.0" cy="84.0" r="0.78"/>
<circle cx="202.7" cy="153.5" r="0.78"/>
<circle cx="211.1" cy="135.6" r="0.78"/>
<circle cx="209.4" cy="131.0" r="0.78"/>
<circle cx="205.8" cy="98.0" r="0.78"/>
<circle cx="216.3" cy="79.8" r="0.78"/>
<circle cx="223.3" cy="124.1" r="0.78"/>
<circle cx="210.0" cy="155.6" r="0.78"/>
<circle cx="209.9" cy="75.6" r="0.78"/>
<circle cx="198.9" cy="88.1" r="0.78"/>
<circle cx="216.5" cy="113.5" r="0.78"/>
<circle cx="220.6" cy="128.6" r="0.78"/>
<circle cx="211.1" cy="147.7" r="0.78"/>
<circle cx="211.2" cy="91.3" r="0.78"/>
<circle cx="213.7" cy="108.1" r="0.78"/>
<circle cx="221.5" cy="70.4" r="0.78"/>
<circle cx="217.4" cy="128.4" r="0.78"/>
<circle cx="201.0" cy="70.3" r="0.78"/>
<circle cx="218.1" cy="122.3" r="0.78"/>
<circle cx="225.2" cy="95.8" r="0.78"/>
<circle cx="208.4" cy="76.3" r="0.78"/>
<circle cx="220.2" cy="92.7" r="0.78"/>
<circle cx="202.8" cy="89.9" r="0.78"/>
<circle cx="212.0" cy="104.3" r="0.78"/>
<circle cx="220.5" cy="99.8" r="0.78"/>
<circle cx="220.2" cy="142.2" r="0.78"/>
<circle cx="214.9" cy="149.9" r="0.78"/>
<circle cx="222.9" cy="139.0" r="0.78"/>
<circle cx="213.8" cy="135.7" r="0.78"/>
<circle cx="217.2" cy="92.8" r="0.78"/>
<circle cx="218.2" cy="79.2" r="0.78"/>
<circle cx="214.8" cy="79.0" r="0.78"/>
<circle cx="206.4" cy="72.3" r="0.78"/>
<circle cx="216.1" cy="64.5" r="0.78"/>
<circle cx="215.5" cy="130.5" r="0.78"/>
<circle cx="218.0" cy="98.7" r="0.78"/>
<circle cx="203.1" cy="78.3" r="0.78"/>
<circle cx="212.4" cy="139.7" r="0.78"/>
<circle cx="217.0" cy="139.9" r="0.78"/>
<circle cx="211.0" cy="122.9" r="0.78"/>
<circle cx="223.1" cy="115.6" r="0.78"/>
<circle cx="217.7" cy="125.3" r="0.78"/>
<circle cx="205.9" cy="90.9" r="0.78"/>
<circle cx="219.3" cy="53.2" r="0.78"/>
<circle cx="223.2" cy="109.7" r="0.78"/>
<circle cx="209.5" cy="149.1" r="0.78"/>
<circle cx="201.8" cy="116.4" r="0.78"/>
<circle cx="222.7" cy="121.0" r="0.78"/>
<circle cx="205.2" cy="92.0" r="0.78"/>
<circle cx="207.6" cy="73.1" r="0.78"/>
<circle cx="218.7" cy="140.7" r="0.78"/>
<circle cx="213.6" cy="158.5" r="0.78"/>
<circle cx="218.5" cy="130.8" r="0.78"/>
<circle cx="200.2" cy="156.5" r="0.78"/>
<circle cx="198.4" cy="110.7" r="0.78"/>
<circle cx="217.6" cy="132.1" r="0.78"/>
<circle cx="205.0" cy="110.4" r="0.78"/>
<circle cx="229.7" cy="126.7" r="0.78"/>
<circle cx="219.7" cy="125.2" r="0.78"/>
<circle cx="222.4" cy="83.0" r="0.78"/>
<circle cx="207.3" cy="99.3" r="0.78"/>
<circle cx="223.6" cy="117.7" r="0.78"/>
<circle cx="225.5" cy="130.5" r="0.78"/>
<circle cx="224.8" cy="126.5" r="0.78"/>
<circle cx="210.5" cy="118.8" r="0.78"/>
<circle cx="211.3" cy="69.7" r="0.78"/>
<circle cx="205.2" cy="86.9" r="0.78"/>
<circle cx="210.5" cy="122.4" r="0.78"/>
<circle cx="223.1" cy="134.5" r="0.78"/>
<circle cx="197.6" cy="88.1" r="0.78"/>
<circle cx="204.4" cy="133.3" r="0.78"/>
<circle cx="220.9" cy="103.5" r="0.78"/>
<circle cx="201.6" cy="137.1" r="0.78"/>
<circle cx="220.8" cy="128.2" r="0.78"/>
<circle cx="212.9" cy="131.6" r="0.78"/>
<circle cx="216.9" cy="134.4" r="0.78"/>
<circle cx="223.7" cy="108.2" r="0.78"/>
<circle cx="214.5" cy="134.0" r="0.78"/>
<circle cx="217.7" cy="49.7" r="0.78"/>
<circle cx="230.2" cy="118.5" r="0.78"/>
<circle cx="209.8" cy="82.1" r="0.78"/>
<circle cx="208.4" cy="131.2" r="0.78"/>
<circle cx="219.2" cy="98.4" r="0.78"/>
<circle cx="220.3" cy="118.2" r="0.78"/>
<circle cx="207.4" cy="148.6" r="0.78"/>
<circle cx="224.3" cy="93.1" r="0.78"/>
<circle cx="208.1" cy="109.9" r="0.78"/>
<circle cx="210.5" cy="135.7" r="0.78"/>
<circle cx="200.2" cy="101.4" r="0.78"/>
<circle cx="224.0" cy="65.6" r="0.78"/>
<circle cx="202.4" cy="115.2" r="0.78"/>
<circle cx="209.3" cy="115.8" r="0.78"/>
<circle cx="213.9" cy="128.9" r="0.78"/>
<circle cx="186.2" cy="84.5" r="0.78"/>
<circle cx="222.7" cy="92.4" r="0.78"/>
<circle cx="200.9" cy="98.1" r="0.78"/>
<circle cx="210.7" cy="113.4" r="0.78"/>
<circle cx="207.4" cy="83.5" r="0.78"/>
<circle cx="205.5" cy="127.4" r="0.78"/>
<circle cx="203.9" cy="115.7" r="0.78"/>
<circle cx="219.8" cy="116.7" r="0.78"/>
<circle cx="219.3" cy="94.9" r="0.78"/>
<circle cx="210.6" cy="96.9" r="0.78"/>
<circle cx="200.4" cy="84.0" r="0.78"/>
<circle cx="221.1" cy="49.8" r="0.78"/>
<circle cx="213.0" cy="147.8" r="0.78"/>
<circle cx="209.5" cy="83.6" r="0.78"/>
<circle cx="200.0" cy="59.1" r="0.78"/>
<circle cx="213.9" cy="103.9" r="0.78"/>
<circle cx="212.4" cy="106.7" r="0.78"/>
<circle cx="201.3" cy="98.3" r="0.78"/>
<circle cx="196.6" cy="77.7" r="0.78"/>
<circle cx="205.3" cy="57.4" r="0.78"/>
<circle cx="213.6" cy="130.2" r="0.78"/>
<circle cx="200.6" cy="85.8" r="0.78"/>
<circle cx="223.8" cy="137.5" r="0.78"/>
<circle cx="216.2" cy="145.0" r="0.78"/>
<circle cx="215.7" cy="125.8" r="0.78"/>
<circle cx="217.1" cy="116.0" r="0.78"/>
<circle cx="213.4" cy="115.9" r="0.78"/>
<circle cx="209.5" cy="126.4" r="0.78"/>
<circle cx="215.8" cy="129.2" r="0.78"/>
<circle cx="191.9" cy="107.8" r="0.78"/>
<circle cx="219.4" cy="129.6" r="0.78"/>
<circle cx="209.2" cy="130.1" r="0.78"/>
<circle cx="219.1" cy="136.8" r="0.78"/>
<circle cx="194.9" cy="98.7" r="0.78"/>
<circle cx="209.4" cy="112.3" r="0.78"/>
<circle cx="202.1" cy="53.2" r="0.78"/>
<circle cx="206.4" cy="120.6" r="0.78"/>
<circle cx="191.8" cy="79.4" r="0.78"/>
<circle cx="212.4" cy="112.4" r="0.78"/>
<circle cx="220.9" cy="120.5" r="0.78"/>
<circle cx="210.9" cy="119.0" r="0.78"/>
<circle cx="212.1" cy="127.2" r="0.78"/>
<circle cx="218.5" cy="157.4" r="0.78"/>
<circle cx="210.8" cy="90.2" r="0.78"/>
<circle cx="223.1" cy="124.0" r="0.78"/>
<circle cx="203.4" cy="111.5" r="0.78"/>
<circle cx="219.9" cy="96.4" r="0.78"/>
<circle cx="198.9" cy="77.9" r="0.78"/>
<circle cx="210.9" cy="66.0" r="0.78"/>
<circle cx="203.2" cy="77.4" r="0.78"/>
<circle cx="215.3" cy="98.8" r="0.78"/>
<circle cx="207.9" cy="56.5" r="0.78"/>
<circle cx="213.4" cy="96.7" r="0.78"/>
<circle cx="220.3" cy="135.6" r="0.78"/>
<circle cx="218.1" cy="128.5" r="0.78"/>
<circle cx="209.8" cy="134.7" r="0.78"/>
<circle cx="211.6" cy="66.3" r="0.78"/>
<circle cx="200.2" cy="68.6" r="0.78"/>
<circle cx="217.0" cy="101.0" r="0.78"/>
<circle cx="186.3" cy="68.1" r="0.78"/>
<circle cx="215.9" cy="82.9" r="0.78"/>
<circle cx="206.8" cy="93.2" r="0.78"/>
<circle cx="214.4" cy="107.5" r="0.78"/>
<circle cx="193.0" cy="69.9" r="0.78"/>
<circle cx="214.0" cy="105.5" r="0.78"/>
<circle cx="222.3" cy="135.9" r="0.78"/>
<circle cx="225.4" cy="110.5" r="0.78"/>
<circle cx="219.9" cy="135.4" r="0.78"/>
<circle cx="203.5" cy="110.6" r="0.78"/>
<circle cx="210.2" cy="73.0" r="0.78"/>
<circle cx="220.5" cy="155.4" r="0.78"/>
<circle cx="205.2" cy="104.9" r="0.78"/>
<circle cx="218.9" cy="95.8" r="0.78"/>
<circle cx="208.7" cy="116.0" r="0.78"/>
<circle cx="221.1" cy="149.6" r="0.78"/>
<circle cx="204.2" cy="100.9" r="0.78"/>
<circle cx="198.6" cy="122.1" r="0.78"/>
<circle cx="183.5" cy="47.2" r="0.78"/>
<circle cx="208.0" cy="67.5" r="0.78"/>
<circle cx="215.0" cy="148.6" r="0.78"/>
<circle cx="204.9" cy="121.6" r="0.78"/>
<circle cx="198.9" cy="73.2" r="0.78"/>
<circle cx="223.3" cy="107.9" r="0.78"/>
<circle cx="215.0" cy="84.9" r="0.78"/>
<circle cx="203.8" cy="78.0" r="0.78"/>
<circle cx="194.1" cy="126.0" r="0.78"/>
<circle cx="212.3" cy="96.8" r="0.78"/>
<circle cx="205.8" cy="82.4" r="0.78"/>
<circle cx="223.3" cy="124.2" r="0.78"/>
<circle cx="202.6" cy="102.9" r="0.78"/>
<circle cx="208.0" cy="147.5" r="0.78"/>
<circle cx="223.3" cy="90.1" r="0.78"/>
<circle cx="211.2" cy="146.0" r="0.78"/>
<circle cx="222.3" cy="124.1" r="0.78"/>
<circle cx="209.0" cy="63.1" r="0.78"/>
<circle cx="204.1" cy="101.0" r="0.78"/>
<circle cx="184.8" cy="65.3" r="0.78"/>
<circle cx="203.2" cy="100.7" r="0.78"/>
<circle cx="202.6" cy="92.8" r="0.78"/>
<circle cx="211.2" cy="102.1" r="0.78"/>
<circle cx="206.6" cy="95.7" r="0.78"/>
<circle cx="216.1" cy="113.1" r="0.78"/>
<circle cx="213.2" cy="132.4" r="0.78"/>
<circle cx="219.1" cy="148.0" r="0.78"/>
<circle cx="190.2" cy="96.7" r="0.78"/>
<circle cx="223.5" cy="119.5" r="0.78"/>
<circle cx="198.9" cy="105.0" r="0.78"/>
<circle cx="214.0" cy="126.9" r="0.78"/>
<circle cx="225.3" cy="122.9" r="0.78"/>
<circle cx="202.6" cy="115.1" r="0.78"/>
<circle cx="204.3" cy="145.2" r="0.78"/>
<circle cx="219.4" cy="104.5" r="0.78"/>
<circle cx="212.7" cy="80.1" r="0.78"/>
<circle cx="224.0" cy="103.9" r="0.78"/>
<circle cx="213.5" cy="152.9" r="0.78"/>
<circle cx="198.8" cy="118.3" r="0.78"/>
<circle cx="180.9" cy="47.6" r="0.78"/>
<circle cx="211.8" cy="111.8" r="0.78"/>
<circle cx="216.1" cy="97.8" r="0.78"/>
<circle cx="217.6" cy="130.0" r="0.78"/>
<circle cx="217.7" cy="156.3" r="0.78"/>
<circle cx="215.9" cy="152.0" r="0.78"/>
<circle cx="203.8" cy="89.0" r="0.78"/>
<circle cx="218.0" cy="74.1" r="0.78"/>
<circle cx="222.4" cy="112.9" r="0.78"/>
<circle cx="207.1" cy="60.9" r="0.78"/>
<circle cx="210.0" cy="152.8" r="0.78"/>
<circle cx="206.1" cy="142.0" r="0.78"/>
<circle cx="216.2" cy="123.4" r="0.78"/>
<circle cx="201.2" cy="73.3" r="0.78"/>
<circle cx="223.9" cy="111.0" r="0.78"/>
<circle cx="218.0" cy="103.9" r="0.78"/>
<circle cx="213.7" cy="114.6" r="0.78"/>
<circle cx="204.7" cy="81.8" r="0.78"/>
<circle cx="209.1" cy="119.9" r="0.78"/>
<circle cx="206.0" cy="116.1" r="0.78"/>
<circle cx="221.4" cy="118.3" r="0.78"/>
<circle cx="181.5" cy="83.3" r="0.78"/>
<circle cx="213.6" cy="104.6" r="0.78"/>
<circle cx="213.3" cy="50.1" r="0.78"/>
<circle cx="217.4" cy="92.1" r="0.78"/>
<circle cx="205.9" cy="101.2" r="0.78"/>
<circle cx="219.5" cy="48.8" r="0.78"/>
<circle cx="206.7" cy="123.6" r="0.78"/>
<circle cx="222.9" cy="115.3" r="0.78"/>
<circle cx="206.2" cy="94.0" r="0.78"/>
<circle cx="210.3" cy="158.1" r="0.78"/>
<circle cx="207.0" cy="126.6" r="0.78"/>
<circle cx="219.3" cy="79.4" r="0.78"/>
<circle cx="217.3" cy="72.3" r="0.78"/>
<circle cx="211.6" cy="104.1" r="0.78"/>
<circle cx="204.8" cy="64.6" r="0.78"/>
<circle cx="218.1" cy="105.7" r="0.78"/>
<circle cx="217.9" cy="81.8" r="0.78"/>
<circle cx="209.0" cy="101.2" r="0.78"/>
<circle cx="208.8" cy="130.5" r="0.78"/>
<circle cx="216.9" cy="127.1" r="0.78"/>
<circle cx="199.2" cy="113.0" r="0.78"/>
<circle cx="221.1" cy="141.1" r="0.78"/>
<circle cx="203.7" cy="128.6" r="0.78"/>
<circle cx="203.7" cy="111.7" r="0.78"/>
<circle cx="216.7" cy="102.7" r="0.78"/>
<circle cx="221.6" cy="132.4" r="0.78"/>
<circle cx="203.5" cy="92.4" r="0.78"/>
<circle cx="225.2" cy="117.2" r="0.78"/>
<circle cx="216.8" cy="108.6" r="0.78"/>
<circle cx="210.3" cy="38.2" r="0.78"/>
<circle cx="223.6" cy="134.4" r="0.78"/>
<circle cx="207.2" cy="102.0" r="0.78"/>
<circle cx="223.3" cy="151.3" r="0.78"/>
<circle cx="213.3" cy="104.5" r="0.78"/>
<circle cx="218.4" cy="126.6" r="0.78"/>
<circle cx="189.4" cy="57.7" r="0.78"/>
<circle cx="225.1" cy="85.3" r="0.78"/>
<circle cx="197.5" cy="127.1" r="0.78"/>
<circle cx="218.1" cy="147.9" r="0.78"/>
<circle cx="221.1" cy="141.5" r="0.78"/>
<circle cx="203.9" cy="145.8" r="0.78"/>
<circle cx="209.1" cy="113.1" r="0.78"/>
<circle cx="213.3" cy="57.6" r="0.78"/>
<circle cx="212.2" cy="101.9" r="0.78"/>
<circle cx="198.6" cy="55.3" r="0.78"/>
<circle cx="207.7" cy="113.9" r="0.78"/>
<circle cx="212.4" cy="147.7" r="0.78"/>
<circle cx="206.1" cy="127.0" r="0.78"/>
<circle cx="219.2" cy="146.4" r="0.78"/>
<circle cx="197.4" cy="97.6" r="0.78"/>
<circle cx="216.7" cy="45.6" r="0.78"/>
<circle cx="214.3" cy="86.7" r="0.78"/>
<circle cx="201.5" cy="59.4" r="0.78"/>
<circle cx="206.6" cy="102.5" r="0.78"/>
<circle cx="220.4" cy="86.3" r="0.78"/>
<circle cx="221.3" cy="126.9" r="0.78"/>
<circle cx="212.3" cy="137.3" r="0.78"/>
<circle cx="217.4" cy="128.2" r="0.78"/>
<circle cx="216.3" cy="135.6" r="0.78"/>
<circle cx="210.9" cy="90.7" r="0.78"/>
<circle cx="217.1" cy="60.6" r="0.78"/>
<circle cx="216.2" cy="72.4" r="0.78"/>
<circle cx="212.6" cy="113.9" r="0.78"/>
<circle cx="208.1" cy="113.6" r="0.78"/>
<circle cx="221.2" cy="121.5" r="0.78"/>
<circle cx="203.1" cy="99.3" r="0.78"/>
<circle cx="217.3" cy="135.6" r="0.78"/>
<circle cx="216.4" cy="91.1" r="0.78"/>
<circle cx="220.8" cy="126.0" r="0.78"/>
<circle cx="210.9" cy="133.5" r="0.78"/>
<circle cx="206.9" cy="110.6" r="0.78"/>
<circle cx="231.4" cy="138.3" r="0.78"/>
<circle cx="224.9" cy="144.9" r="0.78"/>
<circle cx="209.5" cy="130.1" r="0.78"/>
<circle cx="213.9" cy="111.7" r="0.78"/>
<circle cx="222.8" cy="130.8" r="0.78"/>
<circle cx="215.4" cy="140.0" r="0.78"/>
<circle cx="219.1" cy="124.8" r="0.78"/>
<circle cx="210.0" cy="89.7" r="0.78"/>
<circle cx="218.3" cy="124.6" r="0.78"/>
<circle cx="210.8" cy="80.6" r="0.78"/>
<circle cx="217.2" cy="121.4" r="0.78"/>
<circle cx="211.3" cy="77.3" r="0.78"/>
<circle cx="219.1" cy="107.9" r="0.78"/>
<circle cx="225.0" cy="64.9" r="0.78"/>
<circle cx="212.8" cy="129.6" r="0.78"/>
<circle cx="215.0" cy="132.5" r="0.78"/>
<circle cx="209.7" cy="84.9" r="0.78"/>
<circle cx="212.2" cy="142.0" r="0.78"/>
<circle cx="210.3" cy="141.1" r="0.78"/>
<circle cx="210.6" cy="125.8" r="0.78"/>
<circle cx="207.3" cy="130.5" r="0.78"/>
<circle cx="197.3" cy="80.0" r="0.78"/>
<circle cx="215.4" cy="103.2" r="0.78"/>
<circle cx="216.4" cy="89.1" r="0.78"/>
<circle cx="215.7" cy="116.8" r="0.78"/>
<circle cx="206.6" cy="80.1" r="0.78"/>
<circle cx="206.2" cy="152.6" r="0.78"/>
<circle cx="176.2" cy="65.2" r="0.78"/>
<circle cx="219.3" cy="126.3" r="0.78"/>
<circle cx="220.5" cy="132.0" r="0.78"/>
<circle cx="210.4" cy="133.8" r="0.78"/>
<circle cx="215.9" cy="119.4" r="0.78"/>
<circle cx="214.6" cy="108.4" r="0.78"/>
<circle cx="211.2" cy="114.0" r="0.78"/>
<circle cx="212.0" cy="91.0" r="0.78"/>
<circle cx="218.8" cy="79.4" r="0.78"/>
<circle cx="205.3" cy="91.3" r="0.78"/>
<circle cx="216.6" cy="118.7" r="0.78"/>
<circle cx="204.4" cy="71.5" r="0.78"/>
<circle cx="185.8" cy="55.9" r="0.78"/>
<circle cx="215.3" cy="107.5" r="0.78"/>
<circle cx="219.5" cy="132.3" r="0.78"/>
<circle cx="216.8" cy="139.4" r="0.78"/>
<circle cx="213.5" cy="92.6" r="0.78"/>
<circle cx="216.0" cy="101.8" r="0.78"/>
<circle cx="198.9" cy="103.8" r="0.78"/>
<circle cx="215.2" cy="139.4" r="0.78"/>
<circle cx="208.9" cy="72.0" r="0.78"/>
<circle cx="214.6" cy="137.4" r="0.78"/>
<circle cx="207.6" cy="110.4" r="0.78"/>
<circle cx="216.8" cy="137.5" r="0.78"/>
<circle cx="224.2" cy="116.9" r="0.78"/>
<circle cx="225.0" cy="73.3" r="0.78"/>
<circle cx="205.4" cy="135.2" r="0.78"/>
<circle cx="211.1" cy="133.7" r="0.78"/>
<circle cx="223.4" cy="78.1" r="0.78"/>
<circle cx="212.7" cy="115.9" r="0.78"/>
<circle cx="196.5" cy="76.3" r="0.78"/>
<circle cx="205.2" cy="59.0" r="0.78"/>
<circle cx="206.7" cy="84.2" r="0.78"/>
<circle cx="222.3" cy="121.8" r="0.78"/>
<circle cx="208.1" cy="79.6" r="0.78"/>
<circle cx="226.7" cy="75.2" r="0.78"/>
<circle cx="215.1" cy="60.5" r="0.78"/>
<circle cx="206.5" cy="127.5" r="0.78"/>
<circle cx="222.6" cy="119.8" r="0.78"/>
<circle cx="224.4" cy="107.5" r="0.78"/>
<circle cx="219.6" cy="109.6" r="0.78"/>
<circle cx="199.1" cy="98.0" r="0.78"/>
<circle cx="213.9" cy="126.4" r="0.78"/>
<circle cx="207.7" cy="106.6" r="0.78"/>
<circle cx="199.2" cy="62.5" r="0.78"/>
<circle cx="210.0" cy="108.4" r="0.78"/>
<circle cx="223.2" cy="114.9" r="0.78"/>
<circle cx="214.7" cy="123.8" r="0.78"/>
<circle cx="223.8" cy="97.5" r="0.78"/>
<circle cx="224.3" cy="55.4" r="0.78"/>
<circle cx="213.9" cy="108.9" r="0.78"/>
<circle cx="221.1" cy="137.3" r="0.78"/>
<circle cx="221.8" cy="116.9" r="0.78"/>
<circle cx="217.0" cy="124.9" r="0.78"/>
<circle cx="219.0" cy="106.3" r="0.78"/>
<circle cx="196.3" cy="76.3" r="0.78"/>
<circle cx="204.7" cy="97.2" r="0.78"/>
<circle cx="214.6" cy="130.9" r="0.78"/>
<circle cx="204.1" cy="106.1" r="0.78"/>
<circle cx="205.3" cy="100.6" r="0.78"/>
<circle cx="218.2" cy="127.9" r="0.78"/>
<circle cx="208.9" cy="129.4" r="0.78"/>
<circle cx="213.5" cy="103.0" r="0.78"/>
<circle cx="209.3" cy="153.6" r="0.78"/>
<circle cx="209.3" cy="110.6" r="0.78"/>
<circle cx="222.6" cy="144.2" r="0.78"/>
<circle cx="202.9" cy="118.2" r="0.78"/>
<circle cx="221.3" cy="138.8" r="0.78"/>
<circle cx="213.2" cy="121.7" r="0.78"/>
<circle cx="211.3" cy="120.6" r="0.78"/>
<circle cx="192.4" cy="74.9" r="0.78"/>
<circle cx="188.6" cy="78.8" r="0.78"/>
<circle cx="210.0" cy="88.0" r="0.78"/>
<circle cx="190.7" cy="86.1" r="0.78"/>
<circle cx="215.7" cy="91.6" r="0.78"/>
<circle cx="207.6" cy="83.4" r="0.78"/>
<circle cx="198.3" cy="71.5" r="0.78"/>
<circle cx="210.1" cy="113.6" r="0.78"/>
<circle cx="214.5" cy="113.1" r="0.78"/>
<circle cx="209.1" cy="118.0" r="0.78"/>
<circle cx="208.1" cy="105.5" r="0.78"/>
<circle cx="219.0" cy="83.0" r="0.78"/>
<circle cx="181.7" cy="44.2" r="0.78"/>
<circle cx="185.3" cy="65.9" r="0.78"/>
<circle cx="200.1" cy="104.4" r="0.78"/>
<circle cx="196.8" cy="85.8" r="0.78"/>
<circle cx="201.8" cy="45.1" r="0.78"/>
<circle cx="160.2" cy="39.4" r="0.78"/>
<circle cx="200.2" cy="72.1" r="0.78"/>
<circle cx="183.4" cy="50.3" r="0.78"/>
<circle cx="182.5" cy="32.5" r="0.78"/>
<circle cx="189.8" cy="70.5" r="0.78"/>
<circle cx="175.2" cy="64.4" r="0.78"/>
<circle cx="189.4" cy="36.5" r="0.78"/>
<circle cx="185.0" cy="67.0" r="0.78"/>
<circle cx="202.1" cy="41.9" r="0.78"/>
<circle cx="203.5" cy="62.0" r="0.78"/>
<circle cx="167.2" cy="46.9" r="0.78"/>
<circle cx="202.7" cy="86.2" r="0.78"/>
<circle cx="182.3" cy="46.1" r="0.78"/>
<circle cx="199.0" cy="102.6" r="0.78"/>
<circle cx="195.8" cy="56.9" r="0.78"/>
<circle cx="198.7" cy="33.1" r="0.78"/>
<circle cx="175.3" cy="63.7" r="0.78"/>
<circle cx="187.7" cy="32.9" r="0.78"/>
<circle cx="173.2" cy="49.1" r="0.78"/>
<circle cx="196.7" cy="87.3" r="0.78"/>
<circle cx="189.1" cy="65.0" r="0.78"/>
<circle cx="183.1" cy="60.3" r="0.78"/>
<circle cx="185.0" cy="32.6" r="0.78"/>
<circle cx="186.7" cy="46.3" r="0.78"/>
<circle cx="191.2" cy="85.8" r="0.78"/>
<circle cx="185.3" cy="40.0" r="0.78"/>
<circle cx="185.3" cy="41.0" r="0.78"/>
<circle cx="179.1" cy="35.6" r="0.78"/>
<circle cx="173.6" cy="43.8" r="0.78"/>
<circle cx="195.6" cy="40.4" r="0.78"/>
<circle cx="181.5" cy="35.5" r="0.78"/>
<circle cx="170.4" cy="36.3" r="0.78"/>
<circle cx="191.3" cy="80.5" r="0.78"/>
<circle cx="181.0" cy="42.2" r="0.78"/>
<circle cx="230.0" cy="38.8" r="0.78"/>
<circle cx="237.5" cy="36.3" r="0.78"/>
<circle cx="229.5" cy="62.5" r="0.78"/>
<circle cx="240.8" cy="65.8" r="0.78"/>
<circle cx="230.5" cy="70.8" r="0.78"/>
<circle cx="252.5" cy="74.5" r="0.78"/>
<circle cx="239.5" cy="80.0" r="0.78"/>
<circle cx="232.5" cy="82.0" r="0.78"/>
<circle cx="259.5" cy="88.0" r="0.78"/>
<circle cx="238.8" cy="86.0" r="0.78"/>
<circle cx="244.5" cy="94.5" r="0.78"/>
<circle cx="233.0" cy="96.3" r="0.78"/>
<circle cx="228.8" cy="101.0" r="0.78"/>
<circle cx="227.9" cy="102.5" r="0.78"/>
<circle cx="230.4" cy="106.3" r="0.78"/>
<circle cx="241.3" cy="108.7" r="0.78"/>
<circle cx="228.8" cy="111.5" r="0.78"/>
<circle cx="228.5" cy="118.8" r="0.78"/>
<circle cx="231.7" cy="122.7" r="0.78"/>
<circle cx="227.0" cy="123.7" r="0.78"/>
<circle cx="235.0" cy="129.4" r="0.78"/>
<circle cx="228.8" cy="135.2" r="0.78"/>
<circle cx="231.7" cy="137.1" r="0.78"/>
<circle cx="233.0" cy="138.2" r="0.78"/>
<circle cx="228.5" cy="141.0" r="0.78"/>
<circle cx="228.8" cy="145.8" r="0.78"/>
<circle cx="232.7" cy="147.7" r="0.78"/>
<circle cx="237.9" cy="148.3" r="0.78"/>
<circle cx="229.8" cy="155.4" r="0.78"/>
<circle cx="228.8" cy="160.2" r="0.78"/>
<circle cx="229.2" cy="162.1" r="0.78"/>
<circle cx="235.6" cy="163.0" r="0.78"/>
<circle cx="245.2" cy="163.7" r="0.78"/>
<circle cx="251.9" cy="165.6" r="0.78"/>
<circle cx="230.8" cy="165.0" r="0.78"/>
</g>
<text x="94.5" y="13.75" font-size="3.35" class="b" fill="#3a66c4" stroke="#3a66c4" stroke-width="0.15" text-anchor="middle">VCAP</text>
<text x="90.8" y="21.349999999999998" font-size="3.35" class="b" fill="#e8141c" stroke="#e8141c" stroke-width="0.15" text-anchor="middle">MDAMB453</text>
<text x="136.8" y="21.75" font-size="3.35" class="b" fill="#3a66c4" stroke="#3a66c4" stroke-width="0.15" text-anchor="middle">LNCAP</text>
<text x="150.5" y="23.25" font-size="3.35" class="b" fill="#e8141c" stroke="#e8141c" stroke-width="0.15" text-anchor="middle">CAMA1</text>
<text x="121.8" y="26.849999999999998" font-size="3.35" class="b" fill="#e8141c" stroke="#e8141c" stroke-width="0.15" text-anchor="middle">EFM19</text>
<text x="147" y="29.25" font-size="3.35" class="b" fill="#e8141c" stroke="#e8141c" stroke-width="0.15" text-anchor="middle">HCC1419</text>
<text x="108.8" y="31.65" font-size="3.35" class="b" fill="#3a66c4" stroke="#3a66c4" stroke-width="0.15" text-anchor="middle">22RV1</text>
<text x="143.3" y="33.05" font-size="3.35" class="b" fill="#e8141c" stroke="#e8141c" stroke-width="0.15" text-anchor="middle">T47D</text>
<text x="65.8" y="34.35" font-size="3.35" class="b" fill="#e8141c" stroke="#e8141c" stroke-width="0.15" text-anchor="middle">MDAMB361</text>
<text x="89.6" y="42.75" font-size="3.35" class="b" fill="#e8141c" stroke="#e8141c" stroke-width="0.15" text-anchor="middle">UACC893</text>
<text x="110.5" y="42.55" font-size="3.35" class="b" fill="#e8141c" stroke="#e8141c" stroke-width="0.15" text-anchor="middle">MCF7</text>
<text x="136.8" y="44.85" font-size="3.35" class="b" fill="#e8141c" stroke="#e8141c" stroke-width="0.15" text-anchor="middle">SKBR3</text>
<text x="98.8" y="48.05" font-size="3.35" class="b" fill="#e8141c" stroke="#e8141c" stroke-width="0.15" text-anchor="middle">HCC1428</text>
<text x="116.3" y="48.85" font-size="3.35" class="b" fill="#6aa632" stroke="#6aa632" stroke-width="0.15" text-anchor="middle">CORL279</text>
<text x="143" y="49.55" font-size="3.35" class="b" fill="#e8141c" stroke="#e8141c" stroke-width="0.15" text-anchor="middle">MDAMB415</text>
<text x="153.3" y="56.65" font-size="3.35" class="b" fill="#e8141c" stroke="#e8141c" stroke-width="0.15" text-anchor="middle">SUM52PE</text>
<text x="150" y="64.65" font-size="3.35" class="b" fill="#6aa632" stroke="#6aa632" stroke-width="0.15" text-anchor="middle">NCIH2122</text>
<text x="180" y="24.95" font-size="3.35" class="b" fill="#e8141c" stroke="#e8141c" stroke-width="0.15" text-anchor="middle">HCC202</text>
<text x="165" y="33.949999999999996" font-size="3.35" class="b" fill="#6aa632" stroke="#6aa632" stroke-width="0.15" text-anchor="middle">NCIH1437</text>
<text x="170.8" y="38.15" font-size="3.35" class="b" fill="#e8141c" stroke="#e8141c" stroke-width="0.15" text-anchor="middle">ZR75</text>
<text x="192" y="36.65" font-size="3.35" class="b" fill="#6aa632" stroke="#6aa632" stroke-width="0.15" text-anchor="middle">NCIH2110</text>
<text x="165.5" y="41.25" font-size="3.35" class="b" fill="#6aa632" stroke="#6aa632" stroke-width="0.15" text-anchor="middle">NCIH441</text>
<text x="197.5" y="42.55" font-size="3.35" class="b" fill="#6aa632" stroke="#6aa632" stroke-width="0.15" text-anchor="middle">NCIH2170</text>
<text x="163.8" y="44.55" font-size="3.35" class="b" fill="#6aa632" stroke="#6aa632" stroke-width="0.15" text-anchor="middle">NCIH2126</text>
<text x="188" y="46.65" font-size="3.35" class="b" fill="#6aa632" stroke="#6aa632" stroke-width="0.15" text-anchor="middle">NCIH3122</text>
<text x="191.3" y="51.949999999999996" font-size="3.35" class="b" fill="#6aa632" stroke="#6aa632" stroke-width="0.15" text-anchor="middle">NCIH1048</text>
<text x="179.3" y="63.65" font-size="3.35" class="b" fill="#6aa632" stroke="#6aa632" stroke-width="0.15" text-anchor="middle">NCIH1793</text>
<text x="186" y="73.65" font-size="3.35" class="b" fill="#6aa632" stroke="#6aa632" stroke-width="0.15" text-anchor="middle">HCC515</text>
<text x="198.8" y="78.15" font-size="3.35" class="b" fill="#6aa632" stroke="#6aa632" stroke-width="0.15" text-anchor="middle">HCC44</text>
<text x="178.5" y="87.65" font-size="3.35" class="b" fill="#6aa632" stroke="#6aa632" stroke-width="0.15" text-anchor="middle">NCIH2009</text>
<text x="191.3" y="97.85000000000001" font-size="3.35" class="b" fill="#6aa632" stroke="#6aa632" stroke-width="0.15" text-anchor="middle">EKVX</text>
<text x="178.5" y="100.95" font-size="3.35" class="b" fill="#6aa632" stroke="#6aa632" stroke-width="0.15" text-anchor="middle">ABC1</text>
<circle cx="80" cy="20.8" r="0.78" fill="#a2a2a2"/>
<circle cx="58" cy="36.3" r="0.78" fill="#a2a2a2"/>
<circle cx="82" cy="42.3" r="0.78" fill="#a2a2a2"/>
<circle cx="107" cy="46.5" r="0.78" fill="#a2a2a2"/>
<circle cx="113" cy="45" r="0.78" fill="#a2a2a2"/>
<circle cx="108" cy="33.5" r="0.78" fill="#a2a2a2"/>
<circle cx="127.7" cy="46.2" r="0.78" fill="#a2a2a2"/>
<circle cx="115" cy="68" r="0.78" fill="#a2a2a2"/>
<circle cx="117.2" cy="28.5" r="0.78" fill="#a2a2a2"/>
<circle cx="106.6" cy="41.6" r="0.78" fill="#a2a2a2"/>
<circle cx="129.2" cy="37.3" r="0.78" fill="#a2a2a2"/>
<circle cx="134" cy="50.5" r="0.78" fill="#a2a2a2"/>
<circle cx="134" cy="37.5" r="0.78" fill="#a2a2a2"/>
<circle cx="139" cy="39.5" r="0.78" fill="#a2a2a2"/>
<circle cx="141" cy="27" r="0.78" fill="#a2a2a2"/>
<circle cx="137" cy="31.5" r="0.78" fill="#a2a2a2"/>
<circle cx="141" cy="22.5" r="0.78" fill="#a2a2a2"/>
<circle cx="147" cy="24" r="0.78" fill="#a2a2a2"/>
<circle cx="140" cy="65" r="0.78" fill="#a2a2a2"/>
<circle cx="154" cy="60" r="0.78" fill="#a2a2a2"/>
<circle cx="155" cy="64.5" r="0.78" fill="#a2a2a2"/>
<circle cx="151" cy="42" r="0.78" fill="#a2a2a2"/>
<circle cx="148" cy="44.5" r="0.78" fill="#a2a2a2"/>
<text x="268" y="13.2" font-size="5.4" class="b" text-anchor="end" fill="#e8141c">BREAST</text>
<text x="268" y="23.6" font-size="5.4" class="b" text-anchor="end" fill="#3a66c4">PROSTATE</text>
<text x="267" y="33.9" font-size="5.4" class="b" text-anchor="end" fill="#6aa632">LUNG</text>
<text x="33.8" y="193.8" font-size="5.55" class="b">DepMap</text>
<text x="33.8" y="200.8" font-size="5.55" class="b">Broad Institute</text>
</g>
<g id="panelC">
<rect x="337" y="59.4" width="113.8" height="15.7" fill="#f3f3f3" stroke="#222" stroke-width="0.8"/>
<rect x="337" y="79.6" width="113.8" height="16" fill="#f3f3f3" stroke="#222" stroke-width="0.8"/>
<g filter="url(#bl)">
<rect x="341.5" y="63.6" width="29.5" height="7" rx="3.3" fill="#000"/>
<rect x="339" y="64" width="8" height="4" rx="2" fill="#555"/>
<rect x="375" y="66.2" width="31" height="5.2" rx="2.5" fill="#b4b4b4"/>
<rect x="413" y="66" width="32" height="5" rx="2.5" fill="#c2c2c2"/>
<rect x="413" y="66.4" width="10" height="4" rx="2" fill="#b0b0b0"/>
</g><g filter="url(#bl)">
<rect x="341" y="83.4" width="32" height="7.2" rx="3.4" fill="#050505"/>
<rect x="377" y="84" width="32" height="7.2" rx="3.4" fill="#0b0b0b"/>
<rect x="412.5" y="83.6" width="33.5" height="7.2" rx="3.4" fill="#080808"/>
<rect x="368" y="85.6" width="14" height="3.2" fill="#222"/><rect x="404" y="85.8" width="13" height="3.2" fill="#222"/>
</g>
<text x="331.5" y="69.2" font-size="6.1" class="b" text-anchor="end">FOXA1</text>
<text x="331.7" y="91.6" font-size="6.1" class="b" text-anchor="end">GAPDH</text>
<text transform="translate(349.3,56.6) rotate(-19)" font-size="5.4" text-anchor="start">shRen</text>
<text transform="translate(386.2,57.0) rotate(-19)" font-size="5.4" text-anchor="start">shFOXA1 #1</text>
<text transform="translate(428.2,54.7) rotate(-19)" font-size="5.4" text-anchor="start">shFOXA1 #2</text>
</g>
<g id="panelB">
<line x1="31.2" y1="221" x2="31.2" y2="347.2" stroke="#000" stroke-width="1.35"/>
<line x1="30.55" y1="346.6" x2="512" y2="346.6" stroke="#000" stroke-width="1.25"/>
<line x1="31.2" y1="271.5" x2="512.5" y2="271.5" stroke="#000" stroke-width="0.9"/>
<line x1="27.8" y1="221.5" x2="31.2" y2="221.5" stroke="#000" stroke-width="1.1"/>
<text x="27.5" y="223.2" font-size="4.4" class="b" text-anchor="end">1.0</text>
<line x1="27.8" y1="246.5" x2="31.2" y2="246.5" stroke="#000" stroke-width="1.1"/>
<text x="27.5" y="248.2" font-size="4.4" class="b" text-anchor="end">0.5</text>
<line x1="27.8" y1="271.5" x2="31.2" y2="271.5" stroke="#000" stroke-width="1.1"/>
<text x="27.5" y="273.2" font-size="4.4" class="b" text-anchor="end">0.0</text>
<line x1="27.8" y1="296.5" x2="31.2" y2="296.5" stroke="#000" stroke-width="1.1"/>
<text x="27.5" y="298.2" font-size="4.4" class="b" text-anchor="end">-0.5</text>
<line x1="27.8" y1="321.5" x2="31.2" y2="321.5" stroke="#000" stroke-width="1.1"/>
<text x="27.5" y="323.2" font-size="4.4" class="b" text-anchor="end">-1.0</text>
<line x1="27.8" y1="346.5" x2="31.2" y2="346.5" stroke="#000" stroke-width="1.1"/>
<text x="27.5" y="348.2" font-size="4.4" class="b" text-anchor="end">-1.5</text>
<text transform="translate(13.1,285.7) rotate(-90)" font-size="5.8" class="b" text-anchor="middle">FOXA1 Gene effect</text>
<rect x="39.58" y="271.50" width="3.5" height="0.25" fill="#000"/>
<rect x="45.42" y="271.50" width="3.5" height="1.50" fill="#000"/>
<rect x="51.25" y="271.50" width="3.5" height="1.50" fill="#000"/>
<rect x="57.08" y="271.50" width="3.5" height="3.50" fill="#000"/>
<rect x="62.92" y="271.50" width="3.5" height="6.00" fill="#000"/>
<rect x="68.75" y="270.50" width="3.5" height="1.00" fill="#000"/>
<rect x="74.58" y="271.50" width="3.5" height="5.50" fill="#000"/>
<rect x="80.42" y="271.50" width="3.5" height="6.50" fill="#000"/>
<rect x="86.25" y="267.00" width="3.5" height="4.50" fill="#000"/>
<rect x="92.08" y="270.50" width="3.5" height="1.00" fill="#000"/>
<rect x="97.92" y="271.50" width="3.5" height="4.75" fill="#000"/>
<rect x="103.75" y="271.50" width="3.5" height="5.25" fill="#000"/>
<rect x="109.58" y="271.50" width="3.5" height="2.50" fill="#000"/>
<rect x="115.42" y="271.50" width="3.5" height="0.25" fill="#000"/>
<rect x="121.25" y="271.50" width="3.5" height="4.75" fill="#000"/>
<rect x="127.08" y="271.50" width="3.5" height="1.75" fill="#000"/>
<rect x="132.92" y="271.50" width="3.5" height="0.25" fill="#000"/>
<rect x="138.75" y="271.50" width="3.5" height="2.00" fill="#000"/>
<rect x="144.58" y="271.50" width="3.5" height="2.00" fill="#000"/>
<rect x="150.42" y="251.25" width="3.5" height="20.25" fill="#000"/>
<rect x="156.25" y="256.75" width="3.5" height="14.75" fill="#000"/>
<rect x="162.08" y="271.50" width="3.5" height="5.00" fill="#000"/>
<rect x="167.92" y="270.50" width="3.5" height="1.00" fill="#000"/>
<rect x="173.75" y="267.75" width="3.5" height="3.75" fill="#000"/>
<rect x="179.58" y="271.25" width="3.5" height="0.25" fill="#000"/>
<rect x="185.42" y="271.50" width="3.5" height="0.25" fill="#000"/>
<rect x="191.25" y="271.50" width="3.5" height="12.25" fill="#000"/>
<rect x="197.08" y="271.50" width="3.5" height="3.50" fill="#000"/>
<rect x="202.92" y="271.50" width="3.5" height="3.00" fill="#000"/>
<rect x="208.75" y="271.50" width="3.5" height="0.25" fill="#000"/>
<rect x="214.58" y="271.50" width="3.5" height="7.75" fill="#000"/>
<rect x="220.42" y="271.50" width="3.5" height="11.75" fill="#000"/>
<rect x="226.25" y="271.50" width="3.5" height="15.50" fill="#000"/>
<rect x="232.08" y="271.50" width="3.5" height="25.00" fill="#000"/>
<rect x="237.92" y="271.50" width="3.5" height="9.25" fill="#000"/>
<rect x="243.75" y="271.50" width="3.5" height="10.50" fill="#000"/>
<rect x="249.58" y="271.50" width="3.5" height="20.75" fill="#000"/>
<rect x="255.42" y="271.50" width="3.5" height="7.00" fill="#000"/>
<rect x="261.25" y="263.75" width="3.5" height="7.75" fill="#000"/>
<rect x="267.08" y="263.75" width="3.5" height="7.75" fill="#000"/>
<rect x="272.92" y="268.75" width="3.5" height="2.75" fill="#000"/>
<rect x="278.75" y="271.00" width="3.5" height="0.50" fill="#000"/>
<rect x="290.42" y="263.25" width="3.5" height="8.25" fill="#000"/>
<rect x="296.25" y="271.50" width="3.5" height="14.00" fill="#000"/>
<rect x="302.08" y="271.50" width="3.5" height="3.50" fill="#000"/>
<rect x="307.92" y="271.50" width="3.5" height="1.75" fill="#000"/>
<rect x="313.75" y="271.50" width="3.5" height="19.75" fill="#000"/>
<rect x="319.58" y="271.50" width="3.5" height="10.50" fill="#000"/>
<rect x="325.42" y="271.50" width="3.5" height="0.25" fill="#000"/>
<rect x="331.25" y="271.50" width="3.5" height="15.25" fill="#000"/>
<rect x="337.08" y="230.50" width="3.5" height="41.00" fill="#000"/>
<rect x="342.92" y="271.50" width="3.5" height="19.00" fill="#000"/>
<rect x="348.75" y="271.50" width="3.5" height="1.00" fill="#000"/>
<rect x="354.58" y="256.50" width="3.5" height="15.00" fill="#000"/>
<rect x="360.42" y="271.50" width="3.5" height="1.00" fill="#000"/>
<rect x="366.25" y="271.50" width="3.5" height="9.00" fill="#000"/>
<rect x="372.08" y="271.50" width="3.5" height="9.00" fill="#000"/>
<rect x="377.92" y="265.00" width="3.5" height="6.50" fill="#000"/>
<rect x="389.58" y="271.50" width="3.5" height="11.50" fill="#000"/>
<rect x="395.42" y="271.50" width="3.5" height="11.50" fill="#000"/>
<rect x="401.25" y="271.50" width="3.5" height="1.50" fill="#000"/>
<rect x="407.08" y="268.25" width="3.5" height="3.25" fill="#000"/>
<rect x="412.92" y="271.50" width="3.5" height="3.50" fill="#000"/>
<rect x="418.75" y="271.50" width="3.5" height="2.25" fill="#000"/>
<rect x="424.58" y="271.50" width="3.5" height="5.50" fill="#000"/>
<rect x="430.42" y="267.00" width="3.5" height="4.50" fill="#000"/>
<rect x="436.25" y="271.50" width="3.5" height="24.00" fill="#000"/>
<rect x="442.08" y="271.50" width="3.5" height="7.00" fill="#000"/>
<rect x="447.92" y="271.50" width="3.5" height="20.50" fill="#000"/>
<rect x="453.75" y="268.00" width="3.5" height="3.50" fill="#000"/>
<rect x="459.58" y="271.50" width="3.5" height="51.00" fill="#000"/>
<rect x="465.42" y="271.50" width="3.5" height="28.75" fill="#000"/>
<rect x="471.25" y="271.50" width="3.5" height="59.75" fill="#000"/>
<rect x="477.08" y="271.50" width="3.5" height="34.75" fill="#000"/>
<rect x="482.92" y="271.50" width="3.5" height="39.25" fill="#000"/>
<rect x="488.75" y="271.50" width="3.5" height="32.50" fill="#000"/>
<rect x="494.58" y="271.50" width="3.5" height="32.50" fill="#000"/>
<rect x="500.42" y="262.50" width="3.5" height="9.00" fill="#000"/>
<rect x="506.25" y="271.50" width="3.5" height="18.75" fill="#000"/>
<path d="M35.50 346.6v3.4M41.33 346.6v3.4M47.17 346.6v3.4M53.00 346.6v3.4M58.83 346.6v3.4M64.67 346.6v3.4M70.50 346.6v3.4M76.33 346.6v3.4M82.17 346.6v3.4M88.00 346.6v3.4M93.83 346.6v3.4M99.67 346.6v3.4M105.50 346.6v3.4M111.33 346.6v3.4M117.17 346.6v3.4M123.00 346.6v3.4M128.83 346.6v3.4M134.67 346.6v3.4M140.50 346.6v3.4M146.33 346.6v3.4M152.17 346.6v3.4M158.00 346.6v3.4M163.83 346.6v3.4M169.67 346.6v3.4M175.50 346.6v3.4M181.33 346.6v3.4M187.17 346.6v3.4M193.00 346.6v3.4M198.83 346.6v3.4M204.67 346.6v3.4M210.50 346.6v3.4M216.33 346.6v3.4M222.17 346.6v3.4M228.00 346.6v3.4M233.83 346.6v3.4M239.67 346.6v3.4M245.50 346.6v3.4M251.33 346.6v3.4M257.17 346.6v3.4M263.00 346.6v3.4M268.83 346.6v3.4M274.67 346.6v3.4M280.50 346.6v3.4M286.33 346.6v3.4M292.17 346.6v3.4M298.00 346.6v3.4M303.83 346.6v3.4M309.67 346.6v3.4M315.50 346.6v3.4M321.33 346.6v3.4M327.17 346.6v3.4M333.00 346.6v3.4M338.83 346.6v3.4M344.67 346.6v3.4M350.50 346.6v3.4M356.33 346.6v3.4M362.17 346.6v3.4M368.00 346.6v3.4M373.83 346.6v3.4M379.67 346.6v3.4M385.50 346.6v3.4M391.33 346.6v3.4M397.17 346.6v3.4M403.00 346.6v3.4M408.83 346.6v3.4M414.67 346.6v3.4M420.50 346.6v3.4M426.33 346.6v3.4M432.17 346.6v3.4M438.00 346.6v3.4M443.83 346.6v3.4M449.67 346.6v3.4M455.50 346.6v3.4M461.33 346.6v3.4M467.17 346.6v3.4M473.00 346.6v3.4M478.83 346.6v3.4M484.67 346.6v3.4M490.50 346.6v3.4M496.33 346.6v3.4M502.17 346.6v3.4M508.00 346.6v3.4" stroke="#000" stroke-width="0.9" fill="none"/>
<text transform="translate(37.25,351.7) rotate(-90)" font-size="4.95" class="b" text-anchor="end">NCIH838</text>
<text transform="translate(43.08,351.7) rotate(-90)" font-size="4.95" class="b" text-anchor="end">RERFLCAD2</text>
<text transform="translate(48.92,351.7) rotate(-90)" font-size="4.95" class="b" text-anchor="end">CALU1</text>
<text transform="translate(54.75,351.7) rotate(-90)" font-size="4.95" class="b" text-anchor="end">HCC2450</text>
<text transform="translate(60.58,351.7) rotate(-90)" font-size="4.95" class="b" text-anchor="end">COLO699</text>
<text transform="translate(66.42,351.7) rotate(-90)" font-size="4.95" class="b" text-anchor="end">NCIH1975</text>
<text transform="translate(72.25,351.7) rotate(-90)" font-size="4.95" class="b" text-anchor="end">HCC1359</text>
<text transform="translate(78.08,351.7) rotate(-90)" font-size="4.95" class="b" text-anchor="end">NCIH661</text>
<text transform="translate(83.92,351.7) rotate(-90)" font-size="4.95" class="b" text-anchor="end">RERFLCAI</text>
<text transform="translate(89.75,351.7) rotate(-90)" font-size="4.95" class="b" text-anchor="end">NCIH1299</text>
<text transform="translate(95.58,351.7) rotate(-90)" font-size="4.95" class="b" text-anchor="end">SW1573</text>
<text transform="translate(101.42,351.7) rotate(-90)" font-size="4.95" class="b" text-anchor="end">CAL12T</text>
<text transform="translate(107.25,351.7) rotate(-90)" font-size="4.95" class="b" text-anchor="end">NCIH1703</text>
<text transform="translate(113.08,351.7) rotate(-90)" font-size="4.95" class="b" text-anchor="end">CHAGOK1</text>
<text transform="translate(118.92,351.7) rotate(-90)" font-size="4.95" class="b" text-anchor="end">NCIH23</text>
<text transform="translate(124.75,351.7) rotate(-90)" font-size="4.95" class="b" text-anchor="end">HCC461</text>
<text transform="translate(130.58,351.7) rotate(-90)" font-size="4.95" class="b" text-anchor="end">A427</text>
<text transform="translate(136.42,351.7) rotate(-90)" font-size="4.95" class="b" text-anchor="end">NCIH1650</text>
<text transform="translate(142.25,351.7) rotate(-90)" font-size="4.95" class="b" text-anchor="end">LCLC103H</text>
<text transform="translate(148.08,351.7) rotate(-90)" font-size="4.95" class="b" text-anchor="end">A549</text>
<text transform="translate(153.92,351.7) rotate(-90)" font-size="4.95" class="b" text-anchor="end">EPLC272H</text>
<text transform="translate(159.75,351.7) rotate(-90)" font-size="4.95" class="b" text-anchor="end">NCIH2882</text>
<text transform="translate(165.58,351.7) rotate(-90)" font-size="4.95" class="b" text-anchor="end">HCC366</text>
<text transform="translate(171.42,351.7) rotate(-90)" font-size="4.95" class="b" text-anchor="end">SKMES1</text>
<text transform="translate(177.25,351.7) rotate(-90)" font-size="4.95" class="b" text-anchor="end">NCIH1915</text>
<text transform="translate(183.08,351.7) rotate(-90)" font-size="4.95" class="b" text-anchor="end">NCIH520</text>
<text transform="translate(188.92,351.7) rotate(-90)" font-size="4.95" class="b" text-anchor="end">NCIH1693</text>
<text transform="translate(194.75,351.7) rotate(-90)" font-size="4.95" class="b" text-anchor="end">NCIH2023</text>
<text transform="translate(200.58,351.7) rotate(-90)" font-size="4.95" class="b" text-anchor="end">CALU6</text>
<text transform="translate(206.42,351.7) rotate(-90)" font-size="4.95" class="b" text-anchor="end">NCIH1568</text>
<text transform="translate(212.25,351.7) rotate(-90)" font-size="4.95" class="b" text-anchor="end">LXF289</text>
<text transform="translate(218.08,351.7) rotate(-90)" font-size="4.95" class="b" text-anchor="end">HCC95</text>
<text transform="translate(223.92,351.7) rotate(-90)" font-size="4.95" class="b" text-anchor="end">CORL23</text>
<text transform="translate(229.75,351.7) rotate(-90)" font-size="4.95" class="b" text-anchor="end">EBC1</text>
<text transform="translate(235.58,351.7) rotate(-90)" font-size="4.95" class="b" text-anchor="end">ABC1</text>
<text transform="translate(241.42,351.7) rotate(-90)" font-size="4.95" class="b" text-anchor="end">HCC827GR5</text>
<text transform="translate(247.25,351.7) rotate(-90)" font-size="4.95" class="b" text-anchor="end">HCC2429</text>
<text transform="translate(253.08,351.7) rotate(-90)" font-size="4.95" class="b" text-anchor="end">EKVX</text>
<text transform="translate(258.92,351.7) rotate(-90)" font-size="4.95" class="b" text-anchor="end">NCIH2291</text>
<text transform="translate(264.75,351.7) rotate(-90)" font-size="4.95" class="b" text-anchor="end">NCIH1666</text>
<text transform="translate(270.58,351.7) rotate(-90)" font-size="4.95" class="b" text-anchor="end">NCIH1573</text>
<text transform="translate(276.42,351.7) rotate(-90)" font-size="4.95" class="b" text-anchor="end">LU99</text>
<text transform="translate(282.25,351.7) rotate(-90)" font-size="4.95" class="b" text-anchor="end">NCIH1581</text>
<text transform="translate(288.08,351.7) rotate(-90)" font-size="4.95" class="b" text-anchor="end">NCIH2172</text>
<text transform="translate(293.92,351.7) rotate(-90)" font-size="4.95" class="b" text-anchor="end">PC14</text>
<text transform="translate(299.75,351.7) rotate(-90)" font-size="4.95" class="b" text-anchor="end">CORL105</text>
<text transform="translate(305.58,351.7) rotate(-90)" font-size="4.95" class="b" text-anchor="end">LK2</text>
<text transform="translate(311.42,351.7) rotate(-90)" font-size="4.95" class="b" text-anchor="end">HARA</text>
<text transform="translate(317.25,351.7) rotate(-90)" font-size="4.95" class="b" text-anchor="end">NCIH1944</text>
<text transform="translate(323.08,351.7) rotate(-90)" font-size="4.95" class="b" text-anchor="end">HOP62</text>
<text transform="translate(328.92,351.7) rotate(-90)" font-size="4.95" class="b" text-anchor="end">HCC827</text>
<text transform="translate(334.75,351.7) rotate(-90)" font-size="4.95" class="b" text-anchor="end">KNS62</text>
<text transform="translate(340.58,351.7) rotate(-90)" font-size="4.95" class="b" text-anchor="end">NCIH2087</text>
<text transform="translate(346.42,351.7) rotate(-90)" font-size="4.95" class="b" text-anchor="end">NCIH2009</text>
<text transform="translate(352.25,351.7) rotate(-90)" font-size="4.95" class="b" text-anchor="end">MORCPR</text>
<text transform="translate(358.08,351.7) rotate(-90)" font-size="4.95" class="b" text-anchor="end">LU65</text>
<text transform="translate(363.92,351.7) rotate(-90)" font-size="4.95" class="b" text-anchor="end">NCIH1155</text>
<text transform="translate(369.75,351.7) rotate(-90)" font-size="4.95" class="b" text-anchor="end">NCIH1373</text>
<text transform="translate(375.58,351.7) rotate(-90)" font-size="4.95" class="b" text-anchor="end">NCIH1648</text>
<text transform="translate(381.42,351.7) rotate(-90)" font-size="4.95" class="b" text-anchor="end">NCIH2030</text>
<text transform="translate(387.25,351.7) rotate(-90)" font-size="4.95" class="b" text-anchor="end">NCIH322</text>
<text transform="translate(393.08,351.7) rotate(-90)" font-size="4.95" class="b" text-anchor="end">NCIH460</text>
<text transform="translate(398.92,351.7) rotate(-90)" font-size="4.95" class="b" text-anchor="end">HCC44</text>
<text transform="translate(404.75,351.7) rotate(-90)" font-size="4.95" class="b" text-anchor="end">HCC15</text>
<text transform="translate(410.58,351.7) rotate(-90)" font-size="4.95" class="b" text-anchor="end">RERFLCAD1</text>
<text transform="translate(416.42,351.7) rotate(-90)" font-size="4.95" class="b" text-anchor="end">NCIH522</text>
<text transform="translate(422.25,351.7) rotate(-90)" font-size="4.95" class="b" text-anchor="end">NCIH292</text>
<text transform="translate(428.08,351.7) rotate(-90)" font-size="4.95" class="b" text-anchor="end">NCIH1792</text>
<text transform="translate(433.92,351.7) rotate(-90)" font-size="4.95" class="b" text-anchor="end">NCIH647</text>
<text transform="translate(439.75,351.7) rotate(-90)" font-size="4.95" class="b" text-anchor="end">HCC515</text>
<text transform="translate(445.58,351.7) rotate(-90)" font-size="4.95" class="b" text-anchor="end">LUDLU1</text>
<text transform="translate(451.42,351.7) rotate(-90)" font-size="4.95" class="b" text-anchor="end">NCIH2087</text>
<text transform="translate(457.25,351.7) rotate(-90)" font-size="4.95" class="b" text-anchor="end">LCLC97TM1</text>
<text transform="translate(463.08,351.7) rotate(-90)" font-size="4.95" class="b" text-anchor="end">NCIH2122</text>
<text transform="translate(468.92,351.7) rotate(-90)" font-size="4.95" class="b" text-anchor="end">NCIH1793</text>
<text transform="translate(474.75,351.7) rotate(-90)" font-size="4.95" class="b" text-anchor="end">NCIH3122</text>
<text transform="translate(480.58,351.7) rotate(-90)" font-size="4.95" class="b" text-anchor="end">NCIH441</text>
<text transform="translate(486.42,351.7) rotate(-90)" font-size="4.95" class="b" text-anchor="end">NCIH2126</text>
<text transform="translate(492.25,351.7) rotate(-90)" font-size="4.95" class="b" text-anchor="end">NCIH2170</text>
<text transform="translate(498.08,351.7) rotate(-90)" font-size="4.95" class="b" text-anchor="end">NCIH1437</text>
<text transform="translate(503.92,351.7) rotate(-90)" font-size="4.95" class="b" text-anchor="end">HCC2935</text>
<text transform="translate(509.75,351.7) rotate(-90)" font-size="4.95" class="b" text-anchor="end">NCIH2110</text>
<polygon points="35,402.6 518,384.3 518,402.9" fill="#8ea6e0"/>
<text x="407" y="400.6" font-size="7.7">FOXA1 expression</text>
<text x="273.7" y="414.2" font-size="5.6" class="b" text-anchor="middle">NSCLC cell lines</text>
</g>
<g id="panelD">
<line x1="6.5" y1="440.9" x2="399.5" y2="440.9" stroke="#111" stroke-width="1.4"/>
<line x1="419" y1="440.9" x2="460" y2="440.9" stroke="#111" stroke-width="1.4"/>
<line x1="476.7" y1="440.9" x2="518" y2="440.9" stroke="#111" stroke-width="1.4"/>
<line x1="0" y1="546.8" x2="227" y2="546.8" stroke="#111" stroke-width="1.4"/>
<text x="176.1" y="435.2" font-size="8.3" class="b" text-anchor="middle">KRAS-mutant</text>
<text x="441.9" y="437.6" font-size="8.3" class="b" text-anchor="middle">NRAS-mut.</text>
<text x="498.3" y="437.6" font-size="8.3" class="b" text-anchor="middle">MEK-mut.</text>
<text x="107.8" y="541.5" font-size="8.4" class="b" text-anchor="middle">EGFR-mutant</text>
<path d="M22.7 458.29999999999995V503.4H52.3" stroke="#000" stroke-width="0.55" fill="none"/>
<line x1="21.4" y1="503.40" x2="22.7" y2="503.40" stroke="#000" stroke-width="0.5"/>
<text x="20.4" y="504.65" font-size="3.6" class="b" text-anchor="end">0</text>
<line x1="21.4" y1="488.37" x2="22.7" y2="488.37" stroke="#000" stroke-width="0.5"/>
<text x="20.4" y="489.62" font-size="3.6" class="b" text-anchor="end">5,000</text>
<line x1="21.4" y1="473.33" x2="22.7" y2="473.33" stroke="#000" stroke-width="0.5"/>
<text x="20.4" y="474.58" font-size="3.6" class="b" text-anchor="end">10,000</text>
<line x1="21.4" y1="458.30" x2="22.7" y2="458.30" stroke="#000" stroke-width="0.5"/>
<text x="20.4" y="459.55" font-size="3.6" class="b" text-anchor="end">15,000</text>
<text transform="translate(8.8,481.4) rotate(-90)" font-size="3.65" class="b" text-anchor="middle">Fluorescence @ 590nm</text>
<text x="37.5" y="452.7" font-size="4.0" class="b" text-anchor="middle">H441</text>
<text x="36.8" y="524.6" font-size="3.7" class="b" text-anchor="middle">DepMap score: -0.73</text>
<line x1="28.799999999999997" y1="503.4" x2="28.799999999999997" y2="504.7" stroke="#000" stroke-width="0.5"/>
<text transform="translate(30.1,506.4) rotate(-48)" font-size="2.8" class="b" text-anchor="end">shRenilla</text>
<path d="M26.199999999999996 475.44h5.2M28.799999999999997 474.24V476.64M27.499999999999996 474.24h2.6M27.499999999999996 476.64h2.6" stroke="#000" stroke-width="0.5" fill="none"/>
<circle cx="26.60" cy="474.48" r="0.65" fill="#000"/>
<circle cx="30.80" cy="476.16" r="0.65" fill="#000"/>
<circle cx="28.10" cy="476.64" r="0.65" fill="#000"/>
<circle cx="29.70" cy="474.24" r="0.65" fill="#000"/>
<circle cx="27.30" cy="475.80" r="0.65" fill="#000"/>
<circle cx="31.20" cy="475.20" r="0.65" fill="#000"/>
<line x1="37.7" y1="503.4" x2="37.7" y2="504.7" stroke="#000" stroke-width="0.5"/>
<text transform="translate(39.0,506.4) rotate(-48)" font-size="2.8" class="b" text-anchor="end">shFOXA1-1</text>
<path d="M35.1 487.46h5.2M37.7 485.66V489.27M36.400000000000006 485.66h2.6M36.400000000000006 489.27h2.6" stroke="#f0145a" stroke-width="0.5" fill="none"/>
<rect x="34.90" y="485.42" width="1.2" height="1.2" fill="#f0145a"/>
<rect x="39.10" y="487.95" width="1.2" height="1.2" fill="#f0145a"/>
<rect x="36.40" y="488.67" width="1.2" height="1.2" fill="#f0145a"/>
<rect x="38.00" y="485.06" width="1.2" height="1.2" fill="#f0145a"/>
<rect x="35.60" y="487.41" width="1.2" height="1.2" fill="#f0145a"/>
<rect x="39.50" y="486.50" width="1.2" height="1.2" fill="#f0145a"/>
<line x1="46.7" y1="503.4" x2="46.7" y2="504.7" stroke="#000" stroke-width="0.5"/>
<text transform="translate(48.0,506.4) rotate(-48)" font-size="2.8" class="b" text-anchor="end">shFOXA1-2</text>
<path d="M44.1 492.28h5.2M46.7 491.52V493.03M45.400000000000006 491.52h2.6M45.400000000000006 493.03h2.6" stroke="#1f8f8f" stroke-width="0.5" fill="none"/>
<path d="M43.70 491.07h1.6l-0.8 1.4z" fill="#1f8f8f"/>
<path d="M47.90 492.13h1.6l-0.8 1.4z" fill="#1f8f8f"/>
<path d="M45.20 492.43h1.6l-0.8 1.4z" fill="#1f8f8f"/>
<path d="M46.80 490.92h1.6l-0.8 1.4z" fill="#1f8f8f"/>
<path d="M44.40 491.90h1.6l-0.8 1.4z" fill="#1f8f8f"/>
<path d="M48.30 491.52h1.6l-0.8 1.4z" fill="#1f8f8f"/>
<path d="M28.50 470.80V468.5H37.7V483.26" stroke="#000" stroke-width="0.5" fill="none"/>
<text x="33.2" y="468.9" font-size="4.6" class="b" text-anchor="middle">****</text>
<path d="M29.30 463.40V461.1H46.7V489.12" stroke="#000" stroke-width="0.5" fill="none"/>
<text x="37.8" y="461.5" font-size="4.6" class="b" text-anchor="middle">****</text>
<path d="M81.8 458.2V503.4H111.4" stroke="#000" stroke-width="0.55" fill="none"/>
<line x1="80.5" y1="503.40" x2="81.8" y2="503.40" stroke="#000" stroke-width="0.5"/>
<text x="79.5" y="504.65" font-size="3.6" class="b" text-anchor="end">0</text>
<line x1="80.5" y1="494.36" x2="81.8" y2="494.36" stroke="#000" stroke-width="0.5"/>
<text x="79.5" y="495.61" font-size="3.6" class="b" text-anchor="end">2,000</text>
<line x1="80.5" y1="485.32" x2="81.8" y2="485.32" stroke="#000" stroke-width="0.5"/>
<text x="79.5" y="486.57" font-size="3.6" class="b" text-anchor="end">4,000</text>
<line x1="80.5" y1="476.28" x2="81.8" y2="476.28" stroke="#000" stroke-width="0.5"/>
<text x="79.5" y="477.53" font-size="3.6" class="b" text-anchor="end">6,000</text>
<line x1="80.5" y1="467.24" x2="81.8" y2="467.24" stroke="#000" stroke-width="0.5"/>
<text x="79.5" y="468.49" font-size="3.6" class="b" text-anchor="end">8,000</text>
<line x1="80.5" y1="458.20" x2="81.8" y2="458.20" stroke="#000" stroke-width="0.5"/>
<text x="79.5" y="459.45" font-size="3.6" class="b" text-anchor="end">10,000</text>
<text transform="translate(67.9,481.4) rotate(-90)" font-size="3.65" class="b" text-anchor="middle">Fluorescence @ 590nm</text>
<text x="96.5" y="452.7" font-size="4.0" class="b" text-anchor="middle">H2009</text>
<text x="95.8" y="524.6" font-size="3.7" class="b" text-anchor="middle">DepMap score: -0.38</text>
<line x1="87.89999999999999" y1="503.4" x2="87.89999999999999" y2="504.7" stroke="#000" stroke-width="0.5"/>
<text transform="translate(89.2,506.4) rotate(-48)" font-size="2.8" class="b" text-anchor="end">shRenilla</text>
<path d="M85.3 475.38h5.2M87.89999999999999 473.34V477.41M86.6 473.34h2.6M86.6 477.41h2.6" stroke="#000" stroke-width="0.5" fill="none"/>
<circle cx="85.70" cy="473.75" r="0.65" fill="#000"/>
<circle cx="89.90" cy="476.60" r="0.65" fill="#000"/>
<circle cx="87.20" cy="477.41" r="0.65" fill="#000"/>
<circle cx="88.80" cy="473.34" r="0.65" fill="#000"/>
<circle cx="86.40" cy="475.99" r="0.65" fill="#000"/>
<circle cx="90.30" cy="474.97" r="0.65" fill="#000"/>
<line x1="96.8" y1="503.4" x2="96.8" y2="504.7" stroke="#000" stroke-width="0.5"/>
<text transform="translate(98.1,506.4) rotate(-48)" font-size="2.8" class="b" text-anchor="end">shFOXA1-1</text>
<path d="M94.2 493.46h5.2M96.8 492.78V494.13M95.5 492.78h2.6M95.5 494.13h2.6" stroke="#f0145a" stroke-width="0.5" fill="none"/>
<rect x="94.00" y="492.31" width="1.2" height="1.2" fill="#f0145a"/>
<rect x="98.20" y="493.26" width="1.2" height="1.2" fill="#f0145a"/>
<rect x="95.50" y="493.53" width="1.2" height="1.2" fill="#f0145a"/>
<rect x="97.10" y="492.18" width="1.2" height="1.2" fill="#f0145a"/>
<rect x="94.70" y="493.06" width="1.2" height="1.2" fill="#f0145a"/>
<rect x="98.60" y="492.72" width="1.2" height="1.2" fill="#f0145a"/>
<line x1="105.8" y1="503.4" x2="105.8" y2="504.7" stroke="#000" stroke-width="0.5"/>
<text transform="translate(107.1,506.4) rotate(-48)" font-size="2.8" class="b" text-anchor="end">shFOXA1-2</text>
<path d="M103.2 490.29h5.2M105.8 488.26V492.33M104.5 488.26h2.6M104.5 492.33h2.6" stroke="#1f8f8f" stroke-width="0.5" fill="none"/>
<path d="M102.80 488.06h1.6l-0.8 1.4z" fill="#1f8f8f"/>
<path d="M107.00 490.91h1.6l-0.8 1.4z" fill="#1f8f8f"/>
<path d="M104.30 491.73h1.6l-0.8 1.4z" fill="#1f8f8f"/>
<path d="M105.90 487.66h1.6l-0.8 1.4z" fill="#1f8f8f"/>
<path d="M103.50 490.30h1.6l-0.8 1.4z" fill="#1f8f8f"/>
<path d="M107.40 489.29h1.6l-0.8 1.4z" fill="#1f8f8f"/>
<path d="M87.60 468.60V466.3H96.8V490.38" stroke="#000" stroke-width="0.5" fill="none"/>
<text x="92.3" y="466.7" font-size="4.6" class="b" text-anchor="middle">****</text>
<path d="M88.40 463.50V461.2H105.8V485.86" stroke="#000" stroke-width="0.5" fill="none"/>
<text x="96.8" y="461.6" font-size="4.6" class="b" text-anchor="middle">****</text>
<path d="M138.8 458.2V503.4H168.4" stroke="#000" stroke-width="0.55" fill="none"/>
<line x1="137.5" y1="503.40" x2="138.8" y2="503.40" stroke="#000" stroke-width="0.5"/>
<text x="136.5" y="504.65" font-size="3.6" class="b" text-anchor="end">0</text>
<line x1="137.5" y1="492.10" x2="138.8" y2="492.10" stroke="#000" stroke-width="0.5"/>
<text x="136.5" y="493.35" font-size="3.6" class="b" text-anchor="end">2,000</text>
<line x1="137.5" y1="480.80" x2="138.8" y2="480.80" stroke="#000" stroke-width="0.5"/>
<text x="136.5" y="482.05" font-size="3.6" class="b" text-anchor="end">4,000</text>
<line x1="137.5" y1="469.50" x2="138.8" y2="469.50" stroke="#000" stroke-width="0.5"/>
<text x="136.5" y="470.75" font-size="3.6" class="b" text-anchor="end">6,000</text>
<line x1="137.5" y1="458.20" x2="138.8" y2="458.20" stroke="#000" stroke-width="0.5"/>
<text x="136.5" y="459.45" font-size="3.6" class="b" text-anchor="end">8,000</text>
<text transform="translate(126.9,481.4) rotate(-90)" font-size="3.65" class="b" text-anchor="middle">Fluorescence @ 590nm</text>
<text x="153.8" y="452.7" font-size="4.0" class="b" text-anchor="middle">H1373</text>
<text x="154.3" y="524.6" font-size="3.7" class="b" text-anchor="middle">DepMap score: -0.18</text>
<line x1="144.9" y1="503.4" x2="144.9" y2="504.7" stroke="#000" stroke-width="0.5"/>
<text transform="translate(146.2,506.4) rotate(-48)" font-size="2.8" class="b" text-anchor="end">shRenilla</text>
<path d="M142.3 481.37h5.2M144.9 479.39V483.34M143.6 479.39h2.6M143.6 483.34h2.6" stroke="#000" stroke-width="0.5" fill="none"/>
<circle cx="142.70" cy="479.78" r="0.65" fill="#000"/>
<circle cx="146.90" cy="482.55" r="0.65" fill="#000"/>
<circle cx="144.20" cy="483.34" r="0.65" fill="#000"/>
<circle cx="145.80" cy="479.39" r="0.65" fill="#000"/>
<circle cx="143.40" cy="481.96" r="0.65" fill="#000"/>
<circle cx="147.30" cy="480.97" r="0.65" fill="#000"/>
<line x1="153.8" y1="503.4" x2="153.8" y2="504.7" stroke="#000" stroke-width="0.5"/>
<text transform="translate(155.1,506.4) rotate(-48)" font-size="2.8" class="b" text-anchor="end">shFOXA1-1</text>
<path d="M151.20000000000002 480.23h5.2M153.8 478.26V482.21M152.5 478.26h2.6M152.5 482.21h2.6" stroke="#f0145a" stroke-width="0.5" fill="none"/>
<rect x="151.00" y="478.05" width="1.2" height="1.2" fill="#f0145a"/>
<rect x="155.20" y="480.82" width="1.2" height="1.2" fill="#f0145a"/>
<rect x="152.50" y="481.61" width="1.2" height="1.2" fill="#f0145a"/>
<rect x="154.10" y="477.66" width="1.2" height="1.2" fill="#f0145a"/>
<rect x="151.70" y="480.23" width="1.2" height="1.2" fill="#f0145a"/>
<rect x="155.60" y="479.24" width="1.2" height="1.2" fill="#f0145a"/>
<line x1="162.8" y1="503.4" x2="162.8" y2="504.7" stroke="#000" stroke-width="0.5"/>
<text transform="translate(164.1,506.4) rotate(-48)" font-size="2.8" class="b" text-anchor="end">shFOXA1-2</text>
<path d="M160.20000000000002 479.10h5.2M162.8 476.84V481.36M161.5 476.84h2.6M161.5 481.36h2.6" stroke="#1f8f8f" stroke-width="0.5" fill="none"/>
<path d="M159.80 476.70h1.6l-0.8 1.4z" fill="#1f8f8f"/>
<path d="M164.00 479.86h1.6l-0.8 1.4z" fill="#1f8f8f"/>
<path d="M161.30 480.76h1.6l-0.8 1.4z" fill="#1f8f8f"/>
<path d="M162.90 476.24h1.6l-0.8 1.4z" fill="#1f8f8f"/>
<path d="M160.50 479.18h1.6l-0.8 1.4z" fill="#1f8f8f"/>
<path d="M164.40 478.05h1.6l-0.8 1.4z" fill="#1f8f8f"/>
<path d="M196.8 458.2V502.4H226.4" stroke="#000" stroke-width="0.55" fill="none"/>
<line x1="195.5" y1="502.40" x2="196.8" y2="502.40" stroke="#000" stroke-width="0.5"/>
<text x="194.5" y="503.65" font-size="3.6" class="b" text-anchor="end">0</text>
<line x1="195.5" y1="491.35" x2="196.8" y2="491.35" stroke="#000" stroke-width="0.5"/>
<text x="194.5" y="492.60" font-size="3.6" class="b" text-anchor="end">5,000</text>
<line x1="195.5" y1="480.30" x2="196.8" y2="480.30" stroke="#000" stroke-width="0.5"/>
<text x="194.5" y="481.55" font-size="3.6" class="b" text-anchor="end">10,000</text>
<line x1="195.5" y1="469.25" x2="196.8" y2="469.25" stroke="#000" stroke-width="0.5"/>
<text x="194.5" y="470.50" font-size="3.6" class="b" text-anchor="end">15,000</text>
<line x1="195.5" y1="458.20" x2="196.8" y2="458.20" stroke="#000" stroke-width="0.5"/>
<text x="194.5" y="459.45" font-size="3.6" class="b" text-anchor="end">20,000</text>
<text transform="translate(182.9,480.9) rotate(-90)" font-size="3.65" class="b" text-anchor="middle">Fluorescence @ 590nm</text>
<text x="212" y="452.7" font-size="4.0" class="b" text-anchor="middle">HCC44</text>
<text x="211.6" y="523.5" font-size="3.7" class="b" text-anchor="middle">DepMap score: -0.28</text>
<line x1="202.9" y1="502.4" x2="202.9" y2="503.7" stroke="#000" stroke-width="0.5"/>
<text transform="translate(204.2,505.4) rotate(-48)" font-size="2.8" class="b" text-anchor="end">shRenilla</text>
<path d="M200.3 475.88h5.2M202.9 474.33V477.43M201.6 474.33h2.6M201.6 477.43h2.6" stroke="#000" stroke-width="0.5" fill="none"/>
<circle cx="200.70" cy="474.64" r="0.65" fill="#000"/>
<circle cx="204.90" cy="476.81" r="0.65" fill="#000"/>
<circle cx="202.20" cy="477.43" r="0.65" fill="#000"/>
<circle cx="203.80" cy="474.33" r="0.65" fill="#000"/>
<circle cx="201.40" cy="476.34" r="0.65" fill="#000"/>
<circle cx="205.30" cy="475.57" r="0.65" fill="#000"/>
<line x1="211.8" y1="502.4" x2="211.8" y2="503.7" stroke="#000" stroke-width="0.5"/>
<text transform="translate(213.1,505.4) rotate(-48)" font-size="2.8" class="b" text-anchor="end">shFOXA1-1</text>
<path d="M209.20000000000002 478.53h5.2M211.8 477.76V479.31M210.5 477.76h2.6M210.5 479.31h2.6" stroke="#f0145a" stroke-width="0.5" fill="none"/>
<rect x="209.00" y="477.31" width="1.2" height="1.2" fill="#f0145a"/>
<rect x="213.20" y="478.40" width="1.2" height="1.2" fill="#f0145a"/>
<rect x="210.50" y="478.71" width="1.2" height="1.2" fill="#f0145a"/>
<rect x="212.10" y="477.16" width="1.2" height="1.2" fill="#f0145a"/>
<rect x="209.70" y="478.16" width="1.2" height="1.2" fill="#f0145a"/>
<rect x="213.60" y="477.78" width="1.2" height="1.2" fill="#f0145a"/>
<line x1="220.8" y1="502.4" x2="220.8" y2="503.7" stroke="#000" stroke-width="0.5"/>
<text transform="translate(222.1,505.4) rotate(-48)" font-size="2.8" class="b" text-anchor="end">shFOXA1-2</text>
<path d="M218.20000000000002 484.72h5.2M220.8 483.17V486.27M219.5 483.17h2.6M219.5 486.27h2.6" stroke="#1f8f8f" stroke-width="0.5" fill="none"/>
<path d="M217.80 482.88h1.6l-0.8 1.4z" fill="#1f8f8f"/>
<path d="M222.00 485.05h1.6l-0.8 1.4z" fill="#1f8f8f"/>
<path d="M219.30 485.67h1.6l-0.8 1.4z" fill="#1f8f8f"/>
<path d="M220.90 482.57h1.6l-0.8 1.4z" fill="#1f8f8f"/>
<path d="M218.50 484.58h1.6l-0.8 1.4z" fill="#1f8f8f"/>
<path d="M222.40 483.81h1.6l-0.8 1.4z" fill="#1f8f8f"/>
<path d="M202.60 469.60V467.3H211.8V475.36" stroke="#000" stroke-width="0.5" fill="none"/>
<text x="207.4" y="467.7" font-size="4.6" class="b" text-anchor="middle">**</text>
<path d="M203.40 463.60V461.3H220.8V480.77" stroke="#000" stroke-width="0.5" fill="none"/>
<text x="211.9" y="461.7" font-size="4.6" class="b" text-anchor="middle">****</text>
<path d="M253.8 458.2V502.4H283.40000000000003" stroke="#000" stroke-width="0.55" fill="none"/>
<line x1="252.5" y1="502.40" x2="253.8" y2="502.40" stroke="#000" stroke-width="0.5"/>
<text x="251.5" y="503.65" font-size="3.6" class="b" text-anchor="end">0</text>
<line x1="252.5" y1="493.56" x2="253.8" y2="493.56" stroke="#000" stroke-width="0.5"/>
<text x="251.5" y="494.81" font-size="3.6" class="b" text-anchor="end">1,000</text>
<line x1="252.5" y1="484.72" x2="253.8" y2="484.72" stroke="#000" stroke-width="0.5"/>
<text x="251.5" y="485.97" font-size="3.6" class="b" text-anchor="end">2,000</text>
<line x1="252.5" y1="475.88" x2="253.8" y2="475.88" stroke="#000" stroke-width="0.5"/>
<text x="251.5" y="477.13" font-size="3.6" class="b" text-anchor="end">3,000</text>
<line x1="252.5" y1="467.04" x2="253.8" y2="467.04" stroke="#000" stroke-width="0.5"/>
<text x="251.5" y="468.29" font-size="3.6" class="b" text-anchor="end">4,000</text>
<line x1="252.5" y1="458.20" x2="253.8" y2="458.20" stroke="#000" stroke-width="0.5"/>
<text x="251.5" y="459.45" font-size="3.6" class="b" text-anchor="end">5,000</text>
<text transform="translate(241.9,480.9) rotate(-90)" font-size="3.65" class="b" text-anchor="middle">Fluorescence @ 590nm</text>
<text x="268" y="452.7" font-size="4.0" class="b" text-anchor="middle">H358</text>
<text x="268.2" y="523.7" font-size="3.7" class="b" text-anchor="middle">DepMap score: -0.17</text>
<line x1="259.90000000000003" y1="502.4" x2="259.90000000000003" y2="503.7" stroke="#000" stroke-width="0.5"/>
<text transform="translate(261.2,505.4) rotate(-48)" font-size="2.8" class="b" text-anchor="end">shRenilla</text>
<path d="M257.3 482.95h5.2M259.90000000000003 480.74V485.16M258.6 480.74h2.6M258.6 485.16h2.6" stroke="#000" stroke-width="0.5" fill="none"/>
<circle cx="257.70" cy="481.18" r="0.65" fill="#000"/>
<circle cx="261.90" cy="484.28" r="0.65" fill="#000"/>
<circle cx="259.20" cy="485.16" r="0.65" fill="#000"/>
<circle cx="260.80" cy="480.74" r="0.65" fill="#000"/>
<circle cx="258.40" cy="483.62" r="0.65" fill="#000"/>
<circle cx="262.30" cy="482.51" r="0.65" fill="#000"/>
<line x1="268.8" y1="502.4" x2="268.8" y2="503.7" stroke="#000" stroke-width="0.5"/>
<text transform="translate(270.1,505.4) rotate(-48)" font-size="2.8" class="b" text-anchor="end">shFOXA1-1</text>
<path d="M266.2 492.68h5.2M268.8 490.91V494.44M267.5 490.91h2.6M267.5 494.44h2.6" stroke="#f0145a" stroke-width="0.5" fill="none"/>
<rect x="266.00" y="490.66" width="1.2" height="1.2" fill="#f0145a"/>
<rect x="270.20" y="493.14" width="1.2" height="1.2" fill="#f0145a"/>
<rect x="267.50" y="493.84" width="1.2" height="1.2" fill="#f0145a"/>
<rect x="269.10" y="490.31" width="1.2" height="1.2" fill="#f0145a"/>
<rect x="266.70" y="492.61" width="1.2" height="1.2" fill="#f0145a"/>
<rect x="270.60" y="491.72" width="1.2" height="1.2" fill="#f0145a"/>
<line x1="277.8" y1="502.4" x2="277.8" y2="503.7" stroke="#000" stroke-width="0.5"/>
<text transform="translate(279.1,505.4) rotate(-48)" font-size="2.8" class="b" text-anchor="end">shFOXA1-2</text>
<path d="M275.2 487.37h5.2M277.8 486.05V488.70M276.5 486.05h2.6M276.5 488.70h2.6" stroke="#1f8f8f" stroke-width="0.5" fill="none"/>
<path d="M274.80 485.71h1.6l-0.8 1.4z" fill="#1f8f8f"/>
<path d="M279.00 487.57h1.6l-0.8 1.4z" fill="#1f8f8f"/>
<path d="M276.30 488.10h1.6l-0.8 1.4z" fill="#1f8f8f"/>
<path d="M277.90 485.45h1.6l-0.8 1.4z" fill="#1f8f8f"/>
<path d="M275.50 487.17h1.6l-0.8 1.4z" fill="#1f8f8f"/>
<path d="M279.40 486.51h1.6l-0.8 1.4z" fill="#1f8f8f"/>
<path d="M259.60 476.60V474.3H268.8V488.51" stroke="#000" stroke-width="0.5" fill="none"/>
<text x="264.4" y="474.7" font-size="4.6" class="b" text-anchor="middle">****</text>
<path d="M260.40 469.10V466.8H277.8V483.65" stroke="#000" stroke-width="0.5" fill="none"/>
<text x="268.9" y="467.2" font-size="4.6" class="b" text-anchor="middle">***</text>
<path d="M313.8 458.2V502.4H343.40000000000003" stroke="#000" stroke-width="0.55" fill="none"/>
<line x1="312.5" y1="502.40" x2="313.8" y2="502.40" stroke="#000" stroke-width="0.5"/>
<text x="311.5" y="503.65" font-size="3.6" class="b" text-anchor="end">0</text>
<line x1="312.5" y1="491.35" x2="313.8" y2="491.35" stroke="#000" stroke-width="0.5"/>
<text x="311.5" y="492.60" font-size="3.6" class="b" text-anchor="end">5,000</text>
<line x1="312.5" y1="480.30" x2="313.8" y2="480.30" stroke="#000" stroke-width="0.5"/>
<text x="311.5" y="481.55" font-size="3.6" class="b" text-anchor="end">10,000</text>
<line x1="312.5" y1="469.25" x2="313.8" y2="469.25" stroke="#000" stroke-width="0.5"/>
<text x="311.5" y="470.50" font-size="3.6" class="b" text-anchor="end">15,000</text>
<line x1="312.5" y1="458.20" x2="313.8" y2="458.20" stroke="#000" stroke-width="0.5"/>
<text x="311.5" y="459.45" font-size="3.6" class="b" text-anchor="end">20,000</text>
<text transform="translate(299.9,480.9) rotate(-90)" font-size="3.65" class="b" text-anchor="middle">Fluorescence @ 590nm</text>
<text x="328.8" y="452.7" font-size="4.0" class="b" text-anchor="middle">A549</text>
<text x="328.3" y="523.7" font-size="3.7" class="b" text-anchor="middle">DepMap score: -0.22</text>
<line x1="319.90000000000003" y1="502.4" x2="319.90000000000003" y2="503.7" stroke="#000" stroke-width="0.5"/>
<text transform="translate(321.2,505.4) rotate(-48)" font-size="2.8" class="b" text-anchor="end">shRenilla</text>
<path d="M317.3 480.30h5.2M319.90000000000003 478.53V482.07M318.6 478.53h2.6M318.6 482.07h2.6" stroke="#000" stroke-width="0.5" fill="none"/>
<circle cx="317.70" cy="478.89" r="0.65" fill="#000"/>
<circle cx="321.90" cy="481.36" r="0.65" fill="#000"/>
<circle cx="319.20" cy="482.07" r="0.65" fill="#000"/>
<circle cx="320.80" cy="478.53" r="0.65" fill="#000"/>
<circle cx="318.40" cy="480.83" r="0.65" fill="#000"/>
<circle cx="322.30" cy="479.95" r="0.65" fill="#000"/>
<line x1="328.8" y1="502.4" x2="328.8" y2="503.7" stroke="#000" stroke-width="0.5"/>
<text transform="translate(330.1,505.4) rotate(-48)" font-size="2.8" class="b" text-anchor="end">shFOXA1-1</text>
<path d="M326.2 479.86h5.2M328.8 479.19V480.52M327.5 479.19h2.6M327.5 480.52h2.6" stroke="#f0145a" stroke-width="0.5" fill="none"/>
<rect x="326.00" y="478.73" width="1.2" height="1.2" fill="#f0145a"/>
<rect x="330.20" y="479.66" width="1.2" height="1.2" fill="#f0145a"/>
<rect x="327.50" y="479.92" width="1.2" height="1.2" fill="#f0145a"/>
<rect x="329.10" y="478.59" width="1.2" height="1.2" fill="#f0145a"/>
<rect x="326.70" y="479.46" width="1.2" height="1.2" fill="#f0145a"/>
<rect x="330.60" y="479.13" width="1.2" height="1.2" fill="#f0145a"/>
<line x1="337.8" y1="502.4" x2="337.8" y2="503.7" stroke="#000" stroke-width="0.5"/>
<text transform="translate(339.1,505.4) rotate(-48)" font-size="2.8" class="b" text-anchor="end">shFOXA1-2</text>
<path d="M335.2 474.77h5.2M337.8 470.58V478.97M336.5 470.58h2.6M336.5 478.97h2.6" stroke="#1f8f8f" stroke-width="0.5" fill="none"/>
<path d="M334.80 470.82h1.6l-0.8 1.4z" fill="#1f8f8f"/>
<path d="M339.00 476.69h1.6l-0.8 1.4z" fill="#1f8f8f"/>
<path d="M336.30 478.37h1.6l-0.8 1.4z" fill="#1f8f8f"/>
<path d="M337.90 469.98h1.6l-0.8 1.4z" fill="#1f8f8f"/>
<path d="M335.50 475.43h1.6l-0.8 1.4z" fill="#1f8f8f"/>
<path d="M339.40 473.34h1.6l-0.8 1.4z" fill="#1f8f8f"/>
<path d="M369.5 458.2V503.4H399.1" stroke="#000" stroke-width="0.55" fill="none"/>
<line x1="368.2" y1="503.40" x2="369.5" y2="503.40" stroke="#000" stroke-width="0.5"/>
<text x="367.2" y="504.65" font-size="3.6" class="b" text-anchor="end">0</text>
<line x1="368.2" y1="488.33" x2="369.5" y2="488.33" stroke="#000" stroke-width="0.5"/>
<text x="367.2" y="489.58" font-size="3.6" class="b" text-anchor="end">5,000</text>
<line x1="368.2" y1="473.27" x2="369.5" y2="473.27" stroke="#000" stroke-width="0.5"/>
<text x="367.2" y="474.52" font-size="3.6" class="b" text-anchor="end">10,000</text>
<line x1="368.2" y1="458.20" x2="369.5" y2="458.20" stroke="#000" stroke-width="0.5"/>
<text x="367.2" y="459.45" font-size="3.6" class="b" text-anchor="end">15,000</text>
<text transform="translate(355.6,481.4) rotate(-90)" font-size="3.65" class="b" text-anchor="middle">Fluorescence @ 590nm</text>
<text x="383.3" y="452.7" font-size="4.0" class="b" text-anchor="middle">H2122</text>
<text x="385.4" y="524.8000000000001" font-size="3.7" class="b" text-anchor="middle">DepMap score: -1.07</text>
<line x1="375.6" y1="503.4" x2="375.6" y2="504.7" stroke="#000" stroke-width="0.5"/>
<text transform="translate(376.9,506.4) rotate(-48)" font-size="2.8" class="b" text-anchor="end">shRenilla</text>
<path d="M373.0 480.20h5.2M375.6 479.44V480.95M374.3 479.44h2.6M374.3 480.95h2.6" stroke="#000" stroke-width="0.5" fill="none"/>
<circle cx="373.40" cy="479.59" r="0.65" fill="#000"/>
<circle cx="377.60" cy="480.65" r="0.65" fill="#000"/>
<circle cx="374.90" cy="480.95" r="0.65" fill="#000"/>
<circle cx="376.50" cy="479.44" r="0.65" fill="#000"/>
<circle cx="374.10" cy="480.42" r="0.65" fill="#000"/>
<circle cx="378.00" cy="480.05" r="0.65" fill="#000"/>
<line x1="384.5" y1="503.4" x2="384.5" y2="504.7" stroke="#000" stroke-width="0.5"/>
<text transform="translate(385.8,506.4) rotate(-48)" font-size="2.8" class="b" text-anchor="end">shFOXA1-1</text>
<path d="M381.9 483.81h5.2M384.5 481.10V486.53M383.2 481.10h2.6M383.2 486.53h2.6" stroke="#f0145a" stroke-width="0.5" fill="none"/>
<rect x="381.70" y="481.04" width="1.2" height="1.2" fill="#f0145a"/>
<rect x="385.90" y="484.84" width="1.2" height="1.2" fill="#f0145a"/>
<rect x="383.20" y="485.93" width="1.2" height="1.2" fill="#f0145a"/>
<rect x="384.80" y="480.50" width="1.2" height="1.2" fill="#f0145a"/>
<rect x="382.40" y="484.03" width="1.2" height="1.2" fill="#f0145a"/>
<rect x="386.30" y="482.67" width="1.2" height="1.2" fill="#f0145a"/>
<line x1="393.5" y1="503.4" x2="393.5" y2="504.7" stroke="#000" stroke-width="0.5"/>
<text transform="translate(394.8,506.4) rotate(-48)" font-size="2.8" class="b" text-anchor="end">shFOXA1-2</text>
<path d="M390.9 487.73h5.2M393.5 485.32V490.14M392.2 485.32h2.6M392.2 490.14h2.6" stroke="#1f8f8f" stroke-width="0.5" fill="none"/>
<path d="M390.50 485.20h1.6l-0.8 1.4z" fill="#1f8f8f"/>
<path d="M394.70 488.58h1.6l-0.8 1.4z" fill="#1f8f8f"/>
<path d="M392.00 489.54h1.6l-0.8 1.4z" fill="#1f8f8f"/>
<path d="M393.60 484.72h1.6l-0.8 1.4z" fill="#1f8f8f"/>
<path d="M391.20 487.85h1.6l-0.8 1.4z" fill="#1f8f8f"/>
<path d="M395.10 486.65h1.6l-0.8 1.4z" fill="#1f8f8f"/>
<path d="M375.30 475.60V473.3H384.5V478.70" stroke="#000" stroke-width="0.5" fill="none"/>
<text x="380.1" y="473.7" font-size="4.6" class="b" text-anchor="middle">**</text>
<path d="M376.10 469.60V467.3H393.5V482.92" stroke="#000" stroke-width="0.5" fill="none"/>
<text x="384.6" y="467.7" font-size="4.6" class="b" text-anchor="middle">****</text>
<path d="M428 458.2V503.4H456.3" stroke="#000" stroke-width="0.55" fill="none"/>
<line x1="426.7" y1="503.40" x2="428" y2="503.40" stroke="#000" stroke-width="0.5"/>
<text x="425.7" y="504.65" font-size="3.6" class="b" text-anchor="end">0</text>
<line x1="426.7" y1="492.10" x2="428" y2="492.10" stroke="#000" stroke-width="0.5"/>
<text x="425.7" y="493.35" font-size="3.6" class="b" text-anchor="end">5,000</text>
<line x1="426.7" y1="480.80" x2="428" y2="480.80" stroke="#000" stroke-width="0.5"/>
<text x="425.7" y="482.05" font-size="3.6" class="b" text-anchor="end">10,000</text>
<line x1="426.7" y1="469.50" x2="428" y2="469.50" stroke="#000" stroke-width="0.5"/>
<text x="425.7" y="470.75" font-size="3.6" class="b" text-anchor="end">15,000</text>
<line x1="426.7" y1="458.20" x2="428" y2="458.20" stroke="#000" stroke-width="0.5"/>
<text x="425.7" y="459.45" font-size="3.6" class="b" text-anchor="end">20,000</text>
<text transform="translate(414.1,481.4) rotate(-90)" font-size="3.65" class="b" text-anchor="middle">Fluorescence @ 590nm</text>
<text x="443.8" y="452.7" font-size="4.0" class="b" text-anchor="middle">H1299</text>
<text x="443.3" y="524.7" font-size="3.7" class="b" text-anchor="middle">DepMap score: -0.13</text>
<line x1="437.5" y1="503.4" x2="437.5" y2="504.7" stroke="#000" stroke-width="0.5"/>
<text transform="translate(438.8,506.4) rotate(-48)" font-size="2.8" class="b" text-anchor="end">shRenilla</text>
<path d="M434.9 480.12h5.2M437.5 479.44V480.80M436.2 479.44h2.6M436.2 480.80h2.6" stroke="#000" stroke-width="0.5" fill="none"/>
<circle cx="435.30" cy="479.58" r="0.65" fill="#000"/>
<circle cx="439.50" cy="480.53" r="0.65" fill="#000"/>
<circle cx="436.80" cy="480.80" r="0.65" fill="#000"/>
<circle cx="438.40" cy="479.44" r="0.65" fill="#000"/>
<circle cx="436.00" cy="480.33" r="0.65" fill="#000"/>
<circle cx="439.90" cy="479.99" r="0.65" fill="#000"/>
<line x1="450" y1="503.4" x2="450" y2="504.7" stroke="#000" stroke-width="0.5"/>
<text transform="translate(451.3,506.4) rotate(-48)" font-size="2.8" class="b" text-anchor="end">shFOXA1-1</text>
<path d="M447.4 474.02h5.2M450 472.21V475.83M448.7 472.21h2.6M448.7 475.83h2.6" stroke="#f0145a" stroke-width="0.5" fill="none"/>
<rect x="447.20" y="471.97" width="1.2" height="1.2" fill="#f0145a"/>
<rect x="451.40" y="474.50" width="1.2" height="1.2" fill="#f0145a"/>
<rect x="448.70" y="475.23" width="1.2" height="1.2" fill="#f0145a"/>
<rect x="450.30" y="471.61" width="1.2" height="1.2" fill="#f0145a"/>
<rect x="447.90" y="473.96" width="1.2" height="1.2" fill="#f0145a"/>
<rect x="451.80" y="473.06" width="1.2" height="1.2" fill="#f0145a"/>
<path d="M486.8 458.2V503.4H516.4" stroke="#000" stroke-width="0.55" fill="none"/>
<line x1="485.5" y1="503.40" x2="486.8" y2="503.40" stroke="#000" stroke-width="0.5"/>
<text x="484.5" y="504.65" font-size="3.6" class="b" text-anchor="end">0</text>
<line x1="485.5" y1="488.33" x2="486.8" y2="488.33" stroke="#000" stroke-width="0.5"/>
<text x="484.5" y="489.58" font-size="3.6" class="b" text-anchor="end">5,000</text>
<line x1="485.5" y1="473.27" x2="486.8" y2="473.27" stroke="#000" stroke-width="0.5"/>
<text x="484.5" y="474.52" font-size="3.6" class="b" text-anchor="end">10,000</text>
<line x1="485.5" y1="458.20" x2="486.8" y2="458.20" stroke="#000" stroke-width="0.5"/>
<text x="484.5" y="459.45" font-size="3.6" class="b" text-anchor="end">15,000</text>
<text transform="translate(472.9,481.4) rotate(-90)" font-size="3.65" class="b" text-anchor="middle">Fluorescence @ 590nm</text>
<text x="498.8" y="452.7" font-size="4.0" class="b" text-anchor="middle">H1437</text>
<text x="502" y="524.7" font-size="3.7" class="b" text-anchor="middle">DepMap score: -0.78</text>
<line x1="492.90000000000003" y1="503.4" x2="492.90000000000003" y2="504.7" stroke="#000" stroke-width="0.5"/>
<text transform="translate(494.2,506.4) rotate(-48)" font-size="2.8" class="b" text-anchor="end">shRenilla</text>
<path d="M490.3 479.90h5.2M492.90000000000003 478.39V481.40M491.6 478.39h2.6M491.6 481.40h2.6" stroke="#000" stroke-width="0.5" fill="none"/>
<circle cx="490.70" cy="478.69" r="0.65" fill="#000"/>
<circle cx="494.90" cy="480.80" r="0.65" fill="#000"/>
<circle cx="492.20" cy="481.40" r="0.65" fill="#000"/>
<circle cx="493.80" cy="478.39" r="0.65" fill="#000"/>
<circle cx="491.40" cy="480.35" r="0.65" fill="#000"/>
<circle cx="495.30" cy="479.59" r="0.65" fill="#000"/>
<line x1="501.8" y1="503.4" x2="501.8" y2="504.7" stroke="#000" stroke-width="0.5"/>
<text transform="translate(503.1,506.4) rotate(-48)" font-size="2.8" class="b" text-anchor="end">shFOXA1-1</text>
<path d="M499.2 488.94h5.2M501.8 488.03V489.84M500.5 488.03h2.6M500.5 489.84h2.6" stroke="#f0145a" stroke-width="0.5" fill="none"/>
<rect x="499.00" y="487.61" width="1.2" height="1.2" fill="#f0145a"/>
<rect x="503.20" y="488.88" width="1.2" height="1.2" fill="#f0145a"/>
<rect x="500.50" y="489.24" width="1.2" height="1.2" fill="#f0145a"/>
<rect x="502.10" y="487.43" width="1.2" height="1.2" fill="#f0145a"/>
<rect x="499.70" y="488.61" width="1.2" height="1.2" fill="#f0145a"/>
<rect x="503.60" y="488.16" width="1.2" height="1.2" fill="#f0145a"/>
<line x1="510.8" y1="503.4" x2="510.8" y2="504.7" stroke="#000" stroke-width="0.5"/>
<text transform="translate(512.1,506.4) rotate(-48)" font-size="2.8" class="b" text-anchor="end">shFOXA1-2</text>
<path d="M508.2 491.35h5.2M510.8 490.59V492.10M509.5 490.59h2.6M509.5 492.10h2.6" stroke="#1f8f8f" stroke-width="0.5" fill="none"/>
<path d="M507.80 490.14h1.6l-0.8 1.4z" fill="#1f8f8f"/>
<path d="M512.00 491.20h1.6l-0.8 1.4z" fill="#1f8f8f"/>
<path d="M509.30 491.50h1.6l-0.8 1.4z" fill="#1f8f8f"/>
<path d="M510.90 489.99h1.6l-0.8 1.4z" fill="#1f8f8f"/>
<path d="M508.50 490.97h1.6l-0.8 1.4z" fill="#1f8f8f"/>
<path d="M512.40 490.60h1.6l-0.8 1.4z" fill="#1f8f8f"/>
<path d="M492.60 473.60V471.3H501.8V485.63" stroke="#000" stroke-width="0.5" fill="none"/>
<text x="497.4" y="471.7" font-size="4.6" class="b" text-anchor="middle">****</text>
<path d="M493.40 466.90V464.6H510.8V488.19" stroke="#000" stroke-width="0.5" fill="none"/>
<text x="501.9" y="465.0" font-size="4.6" class="b" text-anchor="middle">****</text>
<path d="M23.8 568.6999999999999V613.4H53.400000000000006" stroke="#000" stroke-width="0.55" fill="none"/>
<line x1="22.5" y1="613.40" x2="23.8" y2="613.40" stroke="#000" stroke-width="0.5"/>
<text x="21.5" y="614.65" font-size="3.6" class="b" text-anchor="end">0</text>
<line x1="22.5" y1="598.50" x2="23.8" y2="598.50" stroke="#000" stroke-width="0.5"/>
<text x="21.5" y="599.75" font-size="3.6" class="b" text-anchor="end">1,000</text>
<line x1="22.5" y1="583.60" x2="23.8" y2="583.60" stroke="#000" stroke-width="0.5"/>
<text x="21.5" y="584.85" font-size="3.6" class="b" text-anchor="end">2,000</text>
<line x1="22.5" y1="568.70" x2="23.8" y2="568.70" stroke="#000" stroke-width="0.5"/>
<text x="21.5" y="569.95" font-size="3.6" class="b" text-anchor="end">3,000</text>
<text transform="translate(11.9,591.6) rotate(-90)" font-size="3.65" class="b" text-anchor="middle">Fluorescence @ 590nm</text>
<text x="38.8" y="563.0" font-size="4.0" class="b" text-anchor="middle">H3255</text>
<text x="36.9" y="634.5" font-size="3.7" class="b" text-anchor="middle">DepMap score: -0.36</text>
<line x1="29.9" y1="613.4" x2="29.9" y2="614.6999999999999" stroke="#000" stroke-width="0.5"/>
<text transform="translate(31.2,616.4) rotate(-48)" font-size="2.8" class="b" text-anchor="end">shRenilla</text>
<path d="M27.299999999999997 591.05h5.2M29.9 589.26V592.84M28.599999999999998 589.26h2.6M28.599999999999998 592.84h2.6" stroke="#000" stroke-width="0.5" fill="none"/>
<circle cx="27.70" cy="589.62" r="0.65" fill="#000"/>
<circle cx="31.90" cy="592.12" r="0.65" fill="#000"/>
<circle cx="29.20" cy="592.84" r="0.65" fill="#000"/>
<circle cx="30.80" cy="589.26" r="0.65" fill="#000"/>
<circle cx="28.40" cy="591.59" r="0.65" fill="#000"/>
<circle cx="32.30" cy="590.69" r="0.65" fill="#000"/>
<line x1="38.8" y1="613.4" x2="38.8" y2="614.6999999999999" stroke="#000" stroke-width="0.5"/>
<text transform="translate(40.1,616.4) rotate(-48)" font-size="2.8" class="b" text-anchor="end">shFOXA1-1</text>
<path d="M36.199999999999996 601.78h5.2M38.8 601.03V602.52M37.5 601.03h2.6M37.5 602.52h2.6" stroke="#f0145a" stroke-width="0.5" fill="none"/>
<rect x="36.00" y="600.58" width="1.2" height="1.2" fill="#f0145a"/>
<rect x="40.20" y="601.62" width="1.2" height="1.2" fill="#f0145a"/>
<rect x="37.50" y="601.92" width="1.2" height="1.2" fill="#f0145a"/>
<rect x="39.10" y="600.43" width="1.2" height="1.2" fill="#f0145a"/>
<rect x="36.70" y="601.40" width="1.2" height="1.2" fill="#f0145a"/>
<rect x="40.60" y="601.03" width="1.2" height="1.2" fill="#f0145a"/>
<line x1="47.8" y1="613.4" x2="47.8" y2="614.6999999999999" stroke="#000" stroke-width="0.5"/>
<text transform="translate(49.1,616.4) rotate(-48)" font-size="2.8" class="b" text-anchor="end">shFOXA1-2</text>
<path d="M45.199999999999996 602.22h5.2M47.8 600.59V603.86M46.5 600.59h2.6M46.5 603.86h2.6" stroke="#1f8f8f" stroke-width="0.5" fill="none"/>
<path d="M44.80 600.31h1.6l-0.8 1.4z" fill="#1f8f8f"/>
<path d="M49.00 602.61h1.6l-0.8 1.4z" fill="#1f8f8f"/>
<path d="M46.30 603.26h1.6l-0.8 1.4z" fill="#1f8f8f"/>
<path d="M47.90 599.99h1.6l-0.8 1.4z" fill="#1f8f8f"/>
<path d="M45.50 602.12h1.6l-0.8 1.4z" fill="#1f8f8f"/>
<path d="M49.40 601.30h1.6l-0.8 1.4z" fill="#1f8f8f"/>
<path d="M29.60 586.30V584H38.8V598.63" stroke="#000" stroke-width="0.5" fill="none"/>
<text x="34.3" y="584.4" font-size="4.6" class="b" text-anchor="middle">****</text>
<path d="M30.40 579.80V577.5H47.8V598.19" stroke="#000" stroke-width="0.5" fill="none"/>
<text x="38.8" y="577.9" font-size="4.6" class="b" text-anchor="middle">****</text>
<path d="M80 568.6999999999999V613.4H109.6" stroke="#000" stroke-width="0.55" fill="none"/>
<line x1="78.7" y1="613.40" x2="80" y2="613.40" stroke="#000" stroke-width="0.5"/>
<text x="77.7" y="614.65" font-size="3.6" class="b" text-anchor="end">0</text>
<line x1="78.7" y1="598.50" x2="80" y2="598.50" stroke="#000" stroke-width="0.5"/>
<text x="77.7" y="599.75" font-size="3.6" class="b" text-anchor="end">1,000</text>
<line x1="78.7" y1="583.60" x2="80" y2="583.60" stroke="#000" stroke-width="0.5"/>
<text x="77.7" y="584.85" font-size="3.6" class="b" text-anchor="end">2,000</text>
<line x1="78.7" y1="568.70" x2="80" y2="568.70" stroke="#000" stroke-width="0.5"/>
<text x="77.7" y="569.95" font-size="3.6" class="b" text-anchor="end">3,000</text>
<text transform="translate(68.1,591.6) rotate(-90)" font-size="3.65" class="b" text-anchor="middle">Fluorescence @ 590nm</text>
<text x="95.8" y="563.0" font-size="4.0" class="b" text-anchor="middle">H1975</text>
<text x="94.4" y="634.5" font-size="3.7" class="b" text-anchor="middle">DepMap score: -0.21</text>
<line x1="86.1" y1="613.4" x2="86.1" y2="614.6999999999999" stroke="#000" stroke-width="0.5"/>
<text transform="translate(87.4,616.4) rotate(-48)" font-size="2.8" class="b" text-anchor="end">shRenilla</text>
<path d="M83.5 595.52h5.2M86.1 593.28V597.75M84.8 593.28h2.6M84.8 597.75h2.6" stroke="#000" stroke-width="0.5" fill="none"/>
<circle cx="83.90" cy="593.73" r="0.65" fill="#000"/>
<circle cx="88.10" cy="596.86" r="0.65" fill="#000"/>
<circle cx="85.40" cy="597.75" r="0.65" fill="#000"/>
<circle cx="87.00" cy="593.28" r="0.65" fill="#000"/>
<circle cx="84.60" cy="596.19" r="0.65" fill="#000"/>
<circle cx="88.50" cy="595.07" r="0.65" fill="#000"/>
<line x1="95.0" y1="613.4" x2="95.0" y2="614.6999999999999" stroke="#000" stroke-width="0.5"/>
<text transform="translate(96.3,616.4) rotate(-48)" font-size="2.8" class="b" text-anchor="end">shFOXA1-1</text>
<path d="M92.4 589.56h5.2M95.0 587.32V591.79M93.7 587.32h2.6M93.7 591.79h2.6" stroke="#f0145a" stroke-width="0.5" fill="none"/>
<rect x="92.20" y="587.17" width="1.2" height="1.2" fill="#f0145a"/>
<rect x="96.40" y="590.30" width="1.2" height="1.2" fill="#f0145a"/>
<rect x="93.70" y="591.19" width="1.2" height="1.2" fill="#f0145a"/>
<rect x="95.30" y="586.72" width="1.2" height="1.2" fill="#f0145a"/>
<rect x="92.90" y="589.63" width="1.2" height="1.2" fill="#f0145a"/>
<rect x="96.80" y="588.51" width="1.2" height="1.2" fill="#f0145a"/>
<line x1="104.0" y1="613.4" x2="104.0" y2="614.6999999999999" stroke="#000" stroke-width="0.5"/>
<text transform="translate(105.3,616.4) rotate(-48)" font-size="2.8" class="b" text-anchor="end">shFOXA1-2</text>
<path d="M101.4 598.50h5.2M104.0 596.71V600.29M102.7 596.71h2.6M102.7 600.29h2.6" stroke="#1f8f8f" stroke-width="0.5" fill="none"/>
<path d="M101.00 596.47h1.6l-0.8 1.4z" fill="#1f8f8f"/>
<path d="M105.20 598.97h1.6l-0.8 1.4z" fill="#1f8f8f"/>
<path d="M102.50 599.69h1.6l-0.8 1.4z" fill="#1f8f8f"/>
<path d="M104.10 596.11h1.6l-0.8 1.4z" fill="#1f8f8f"/>
<path d="M101.70 598.44h1.6l-0.8 1.4z" fill="#1f8f8f"/>
<path d="M105.60 597.54h1.6l-0.8 1.4z" fill="#1f8f8f"/>
<path d="M140 568.6999999999999V613.4H169.6" stroke="#000" stroke-width="0.55" fill="none"/>
<line x1="138.7" y1="613.40" x2="140" y2="613.40" stroke="#000" stroke-width="0.5"/>
<text x="137.7" y="614.65" font-size="3.6" class="b" text-anchor="end">0</text>
<line x1="138.7" y1="604.46" x2="140" y2="604.46" stroke="#000" stroke-width="0.5"/>
<text x="137.7" y="605.71" font-size="3.6" class="b" text-anchor="end">1,000</text>
<line x1="138.7" y1="595.52" x2="140" y2="595.52" stroke="#000" stroke-width="0.5"/>
<text x="137.7" y="596.77" font-size="3.6" class="b" text-anchor="end">2,000</text>
<line x1="138.7" y1="586.58" x2="140" y2="586.58" stroke="#000" stroke-width="0.5"/>
<text x="137.7" y="587.83" font-size="3.6" class="b" text-anchor="end">3,000</text>
<line x1="138.7" y1="577.64" x2="140" y2="577.64" stroke="#000" stroke-width="0.5"/>
<text x="137.7" y="578.89" font-size="3.6" class="b" text-anchor="end">4,000</text>
<line x1="138.7" y1="568.70" x2="140" y2="568.70" stroke="#000" stroke-width="0.5"/>
<text x="137.7" y="569.95" font-size="3.6" class="b" text-anchor="end">5,000</text>
<text transform="translate(128.1,591.6) rotate(-90)" font-size="3.65" class="b" text-anchor="middle">Fluorescence @ 590nm</text>
<text x="153" y="563.0" font-size="4.0" class="b" text-anchor="middle">H820</text>
<text x="152.5" y="634.5" font-size="3.7" class="b" text-anchor="middle">DepMap score: not profiled</text>
<line x1="146.1" y1="613.4" x2="146.1" y2="614.6999999999999" stroke="#000" stroke-width="0.5"/>
<text transform="translate(147.4,616.4) rotate(-48)" font-size="2.8" class="b" text-anchor="end">shRenilla</text>
<path d="M143.5 594.63h5.2M146.1 592.39V596.86M144.79999999999998 592.39h2.6M144.79999999999998 596.86h2.6" stroke="#000" stroke-width="0.5" fill="none"/>
<circle cx="143.90" cy="592.84" r="0.65" fill="#000"/>
<circle cx="148.10" cy="595.97" r="0.65" fill="#000"/>
<circle cx="145.40" cy="596.86" r="0.65" fill="#000"/>
<circle cx="147.00" cy="592.39" r="0.65" fill="#000"/>
<circle cx="144.60" cy="595.30" r="0.65" fill="#000"/>
<circle cx="148.50" cy="594.18" r="0.65" fill="#000"/>
<line x1="155.0" y1="613.4" x2="155.0" y2="614.6999999999999" stroke="#000" stroke-width="0.5"/>
<text transform="translate(156.3,616.4) rotate(-48)" font-size="2.8" class="b" text-anchor="end">shFOXA1-1</text>
<path d="M152.4 588.37h5.2M155.0 584.34V592.39M153.7 584.34h2.6M153.7 592.39h2.6" stroke="#f0145a" stroke-width="0.5" fill="none"/>
<rect x="152.20" y="584.55" width="1.2" height="1.2" fill="#f0145a"/>
<rect x="156.40" y="590.18" width="1.2" height="1.2" fill="#f0145a"/>
<rect x="153.70" y="591.79" width="1.2" height="1.2" fill="#f0145a"/>
<rect x="155.30" y="583.74" width="1.2" height="1.2" fill="#f0145a"/>
<rect x="152.90" y="588.97" width="1.2" height="1.2" fill="#f0145a"/>
<rect x="156.80" y="586.96" width="1.2" height="1.2" fill="#f0145a"/>
<line x1="164.0" y1="613.4" x2="164.0" y2="614.6999999999999" stroke="#000" stroke-width="0.5"/>
<text transform="translate(165.3,616.4) rotate(-48)" font-size="2.8" class="b" text-anchor="end">shFOXA1-2</text>
<path d="M161.4 596.41h5.2M164.0 594.18V598.65M162.7 594.18h2.6M162.7 598.65h2.6" stroke="#1f8f8f" stroke-width="0.5" fill="none"/>
<path d="M161.00 594.03h1.6l-0.8 1.4z" fill="#1f8f8f"/>
<path d="M165.20 597.15h1.6l-0.8 1.4z" fill="#1f8f8f"/>
<path d="M162.50 598.05h1.6l-0.8 1.4z" fill="#1f8f8f"/>
<path d="M164.10 593.58h1.6l-0.8 1.4z" fill="#1f8f8f"/>
<path d="M161.70 596.48h1.6l-0.8 1.4z" fill="#1f8f8f"/>
<path d="M165.60 595.37h1.6l-0.8 1.4z" fill="#1f8f8f"/>
<path d="M196.8 568.6999999999999V613.4H226.4" stroke="#000" stroke-width="0.55" fill="none"/>
<line x1="195.5" y1="613.40" x2="196.8" y2="613.40" stroke="#000" stroke-width="0.5"/>
<text x="194.5" y="614.65" font-size="3.6" class="b" text-anchor="end">0</text>
<line x1="195.5" y1="598.50" x2="196.8" y2="598.50" stroke="#000" stroke-width="0.5"/>
<text x="194.5" y="599.75" font-size="3.6" class="b" text-anchor="end">5,000</text>
<line x1="195.5" y1="583.60" x2="196.8" y2="583.60" stroke="#000" stroke-width="0.5"/>
<text x="194.5" y="584.85" font-size="3.6" class="b" text-anchor="end">10,000</text>
<line x1="195.5" y1="568.70" x2="196.8" y2="568.70" stroke="#000" stroke-width="0.5"/>
<text x="194.5" y="569.95" font-size="3.6" class="b" text-anchor="end">15,000</text>
<text transform="translate(182.9,591.6) rotate(-90)" font-size="3.65" class="b" text-anchor="middle">Fluorescence @ 590nm</text>
<text x="211.3" y="563.0" font-size="4.0" class="b" text-anchor="middle">PC9</text>
<text x="210" y="634.5" font-size="3.7" class="b" text-anchor="middle">DepMap score: 0.03</text>
<line x1="202.9" y1="613.4" x2="202.9" y2="614.6999999999999" stroke="#000" stroke-width="0.5"/>
<text transform="translate(204.2,616.4) rotate(-48)" font-size="2.8" class="b" text-anchor="end">shRenilla</text>
<path d="M200.3 581.22h5.2M202.9 580.62V581.81M201.6 580.62h2.6M201.6 581.81h2.6" stroke="#000" stroke-width="0.5" fill="none"/>
<circle cx="200.70" cy="580.74" r="0.65" fill="#000"/>
<circle cx="204.90" cy="581.57" r="0.65" fill="#000"/>
<circle cx="202.20" cy="581.81" r="0.65" fill="#000"/>
<circle cx="203.80" cy="580.62" r="0.65" fill="#000"/>
<circle cx="201.40" cy="581.39" r="0.65" fill="#000"/>
<circle cx="205.30" cy="581.10" r="0.65" fill="#000"/>
<line x1="211.8" y1="613.4" x2="211.8" y2="614.6999999999999" stroke="#000" stroke-width="0.5"/>
<text transform="translate(213.1,616.4) rotate(-48)" font-size="2.8" class="b" text-anchor="end">shFOXA1-1</text>
<path d="M209.20000000000002 581.51h5.2M211.8 579.43V583.60M210.5 579.43h2.6M210.5 583.60h2.6" stroke="#f0145a" stroke-width="0.5" fill="none"/>
<rect x="209.00" y="579.25" width="1.2" height="1.2" fill="#f0145a"/>
<rect x="213.20" y="582.17" width="1.2" height="1.2" fill="#f0145a"/>
<rect x="210.50" y="583.00" width="1.2" height="1.2" fill="#f0145a"/>
<rect x="212.10" y="578.83" width="1.2" height="1.2" fill="#f0145a"/>
<rect x="209.70" y="581.54" width="1.2" height="1.2" fill="#f0145a"/>
<rect x="213.60" y="580.50" width="1.2" height="1.2" fill="#f0145a"/>
<line x1="220.8" y1="613.4" x2="220.8" y2="614.6999999999999" stroke="#000" stroke-width="0.5"/>
<text transform="translate(222.1,616.4) rotate(-48)" font-size="2.8" class="b" text-anchor="end">shFOXA1-2</text>
<path d="M218.20000000000002 580.02h5.2M220.8 578.68V581.36M219.5 578.68h2.6M219.5 581.36h2.6" stroke="#1f8f8f" stroke-width="0.5" fill="none"/>
<path d="M217.80 578.35h1.6l-0.8 1.4z" fill="#1f8f8f"/>
<path d="M222.00 580.23h1.6l-0.8 1.4z" fill="#1f8f8f"/>
<path d="M219.30 580.76h1.6l-0.8 1.4z" fill="#1f8f8f"/>
<path d="M220.90 578.08h1.6l-0.8 1.4z" fill="#1f8f8f"/>
<path d="M218.50 579.83h1.6l-0.8 1.4z" fill="#1f8f8f"/>
<path d="M222.40 579.16h1.6l-0.8 1.4z" fill="#1f8f8f"/>
</g>
</svg></body></html>
